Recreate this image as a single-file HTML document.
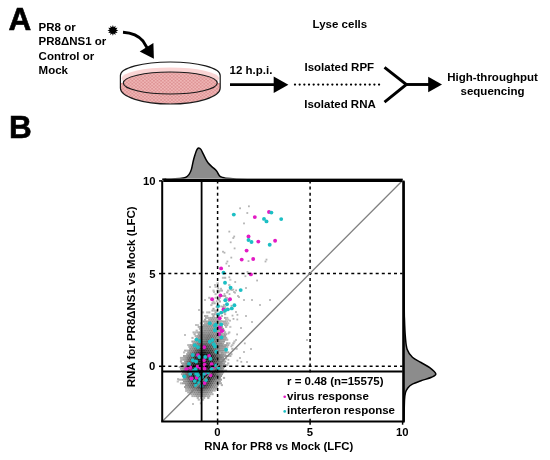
<!DOCTYPE html><html><head><meta charset="utf-8"><style>html,body{margin:0;padding:0;background:#fff;width:550px;height:460px;overflow:hidden}svg{display:block}</style></head><body><svg width="550" height="460" viewBox="0 0 550 460">
<defs>
<pattern id="cells" width="3.6" height="3.2" patternUnits="userSpaceOnUse">
<rect width="3.6" height="3.2" fill="#dc8f90"/>
<circle cx="0.9" cy="0.8" r="0.95" fill="#f1b9b9"/>
<circle cx="2.7" cy="2.4" r="0.95" fill="#f1b9b9"/>
<circle cx="2.7" cy="0.8" r="0.5" fill="#e7a4a4"/>
<circle cx="0.9" cy="2.4" r="0.5" fill="#e7a4a4"/>
</pattern>
<clipPath id="plotclip"><rect x="162.2" y="180.5" width="240.4" height="241"/></clipPath>
</defs>
<rect width="550" height="460" fill="#fff"/>
<text x="8.4" y="30.3" font-size="31.5" stroke="#000" stroke-width="0.6" font-family="Liberation Sans, sans-serif" font-weight="bold">A</text>
<text x="8.9" y="137.5" font-size="31.5" stroke="#000" stroke-width="0.6" font-family="Liberation Sans, sans-serif" font-weight="bold">B</text>
<text x="38.6" y="31.1" font-size="11.5" font-family="Liberation Sans, sans-serif" font-weight="bold">PR8 or</text>
<text x="38.6" y="45.4" font-size="11.5" font-family="Liberation Sans, sans-serif" font-weight="bold">PR8ΔNS1 or</text>
<text x="38.6" y="59.7" font-size="11.5" font-family="Liberation Sans, sans-serif" font-weight="bold">Control or</text>
<text x="38.6" y="74.0" font-size="11.5" font-family="Liberation Sans, sans-serif" font-weight="bold">Mock</text>
<polygon points="118.30,30.40 116.09,31.25 117.58,33.10 115.23,32.73 115.60,35.08 113.75,33.59 112.90,35.80 112.05,33.59 110.20,35.08 110.57,32.73 108.22,33.10 109.71,31.25 107.50,30.40 109.71,29.55 108.22,27.70 110.57,28.07 110.20,25.72 112.05,27.21 112.90,25.00 113.75,27.21 115.60,25.72 115.23,28.07 117.58,27.70 116.09,29.55" fill="#000"/>
<path d="M123,32.2 C131.5,32.8 138.5,35.5 143,41 L147.2,48" fill="none" stroke="#000" stroke-width="2.9"/>
<polygon points="139.7,51.5 153.4,43.1 153.9,58.8" fill="#000"/>
<path d="M120.4,75.5 L120.4,88 A49.89999999999999,16 0 0 0 220.2,88 L220.2,75.5 Z" fill="url(#cells)" stroke="none"/>
<path d="M120.4,75.5 A49.89999999999999,13.5 0 0 1 220.2,75.5 L220.2,83 L217.3,83 A47,11 0 0 0 123.3,83 L120.4,83 Z" fill="#fff" stroke="none"/>
<ellipse cx="170.3" cy="78.3" rx="48.6" ry="10.8" fill="#fad4d4" stroke="none"/>
<ellipse cx="170.3" cy="83" rx="47" ry="11" fill="url(#cells)" stroke="#1a1a1a" stroke-width="1.2"/>
<path d="M120.4,88 L120.4,75.5 A49.89999999999999,13.5 0 0 1 220.2,75.5 L220.2,88 A49.89999999999999,16 0 0 1 120.4,88 Z" fill="none" stroke="#1a1a1a" stroke-width="1.2"/>
<text x="251" y="73.9" font-size="11.5" text-anchor="middle" font-family="Liberation Sans, sans-serif" font-weight="bold">12 h.p.i.</text>
<line x1="230" y1="84.7" x2="275" y2="84.7" stroke="#000" stroke-width="2.8"/>
<polygon points="273.7,76.5 288.4,84.7 273.7,92.9" fill="#000"/>
<line x1="295" y1="84.6" x2="381" y2="84.6" stroke="#000" stroke-width="2.3" stroke-linecap="round" stroke-dasharray="0 4.67"/>
<text x="339.9" y="28.4" font-size="11.5" text-anchor="middle" font-family="Liberation Sans, sans-serif" font-weight="bold">Lyse cells</text>
<text x="339.3" y="70.6" font-size="11.5" text-anchor="middle" font-family="Liberation Sans, sans-serif" font-weight="bold">Isolated RPF</text>
<text x="340" y="108.1" font-size="11.5" text-anchor="middle" font-family="Liberation Sans, sans-serif" font-weight="bold">Isolated RNA</text>
<polyline points="384.5,67.3 406.4,84.5 384.5,102.2" fill="none" stroke="#000" stroke-width="2.9"/>
<line x1="406" y1="84.5" x2="430" y2="84.5" stroke="#000" stroke-width="2.9"/>
<polygon points="428.2,76.7 442,84.5 428.2,92.3" fill="#000"/>
<text x="492.5" y="81" font-size="11.5" text-anchor="middle" font-family="Liberation Sans, sans-serif" font-weight="bold">High-throughput</text>
<text x="492.5" y="94.6" font-size="11.5" text-anchor="middle" font-family="Liberation Sans, sans-serif" font-weight="bold">sequencing</text>
<g clip-path="url(#plotclip)">
<rect x="221.9" y="276.8" width="2.2" height="2.0" fill="rgb(189,189,189)"/>
<rect x="224.0" y="276.8" width="2.2" height="2.0" fill="rgb(180,180,180)"/>
<rect x="229.2" y="278.7" width="2.2" height="2.0" fill="rgb(199,199,199)"/>
<rect x="216.6" y="282.3" width="2.2" height="2.0" fill="rgb(184,184,184)"/>
<rect x="228.2" y="284.1" width="2.2" height="2.0" fill="rgb(185,185,185)"/>
<rect x="214.5" y="285.9" width="2.2" height="2.0" fill="rgb(195,195,195)"/>
<rect x="219.8" y="287.8" width="2.2" height="2.0" fill="rgb(187,187,187)"/>
<rect x="212.4" y="289.6" width="2.2" height="2.0" fill="rgb(191,191,191)"/>
<rect x="216.6" y="289.6" width="2.2" height="2.0" fill="rgb(175,175,175)"/>
<rect x="220.8" y="289.6" width="2.2" height="2.0" fill="rgb(176,176,176)"/>
<rect x="227.1" y="289.6" width="2.2" height="2.0" fill="rgb(184,184,184)"/>
<rect x="226.1" y="291.4" width="2.2" height="2.0" fill="rgb(176,176,176)"/>
<rect x="214.5" y="293.2" width="2.2" height="2.0" fill="rgb(183,183,183)"/>
<rect x="221.9" y="295.0" width="2.2" height="2.0" fill="rgb(182,182,182)"/>
<rect x="224.0" y="295.0" width="2.2" height="2.0" fill="rgb(171,171,171)"/>
<rect x="208.2" y="296.8" width="2.2" height="2.0" fill="rgb(186,186,186)"/>
<rect x="214.5" y="296.8" width="2.2" height="2.0" fill="rgb(190,190,190)"/>
<rect x="218.7" y="296.8" width="2.2" height="2.0" fill="rgb(172,172,172)"/>
<rect x="225.0" y="296.8" width="2.2" height="2.0" fill="rgb(189,189,189)"/>
<rect x="217.7" y="298.7" width="2.2" height="2.0" fill="rgb(166,166,166)"/>
<rect x="224.0" y="298.7" width="2.2" height="2.0" fill="rgb(180,180,180)"/>
<rect x="226.1" y="298.7" width="2.2" height="2.0" fill="rgb(183,183,183)"/>
<rect x="212.4" y="300.5" width="2.2" height="2.0" fill="rgb(187,187,187)"/>
<rect x="218.7" y="300.5" width="2.2" height="2.0" fill="rgb(169,169,169)"/>
<rect x="211.4" y="302.3" width="2.2" height="2.0" fill="rgb(171,171,171)"/>
<rect x="213.5" y="302.3" width="2.2" height="2.0" fill="rgb(172,172,172)"/>
<rect x="210.3" y="304.1" width="2.2" height="2.0" fill="rgb(184,184,184)"/>
<rect x="222.9" y="304.1" width="2.2" height="2.0" fill="rgb(181,181,181)"/>
<rect x="215.6" y="305.9" width="2.2" height="2.0" fill="rgb(170,170,170)"/>
<rect x="221.9" y="305.9" width="2.2" height="2.0" fill="rgb(167,167,167)"/>
<rect x="224.0" y="305.9" width="2.2" height="2.0" fill="rgb(188,188,188)"/>
<rect x="212.4" y="307.8" width="2.2" height="2.0" fill="rgb(162,162,162)"/>
<rect x="211.4" y="309.6" width="2.2" height="2.0" fill="rgb(170,170,170)"/>
<rect x="213.5" y="309.6" width="2.2" height="2.0" fill="rgb(179,179,179)"/>
<rect x="215.6" y="309.6" width="2.2" height="2.0" fill="rgb(167,167,167)"/>
<rect x="201.9" y="311.4" width="2.2" height="2.0" fill="rgb(191,191,191)"/>
<rect x="206.1" y="311.4" width="2.2" height="2.0" fill="rgb(187,187,187)"/>
<rect x="208.2" y="311.4" width="2.2" height="2.0" fill="rgb(175,175,175)"/>
<rect x="214.5" y="311.4" width="2.2" height="2.0" fill="rgb(167,167,167)"/>
<rect x="220.8" y="311.4" width="2.2" height="2.0" fill="rgb(173,173,173)"/>
<rect x="222.9" y="311.4" width="2.2" height="2.0" fill="rgb(170,170,170)"/>
<rect x="211.4" y="313.2" width="2.2" height="2.0" fill="rgb(171,171,171)"/>
<rect x="213.5" y="313.2" width="2.2" height="2.0" fill="rgb(166,166,166)"/>
<rect x="215.6" y="313.2" width="2.2" height="2.0" fill="rgb(174,174,174)"/>
<rect x="224.0" y="313.2" width="2.2" height="2.0" fill="rgb(179,179,179)"/>
<rect x="204.0" y="315.0" width="2.2" height="2.0" fill="rgb(174,174,174)"/>
<rect x="206.1" y="315.0" width="2.2" height="2.0" fill="rgb(178,178,178)"/>
<rect x="212.4" y="315.0" width="2.2" height="2.0" fill="rgb(168,168,168)"/>
<rect x="216.6" y="315.0" width="2.2" height="2.0" fill="rgb(172,172,172)"/>
<rect x="220.8" y="315.0" width="2.2" height="2.0" fill="rgb(180,180,180)"/>
<rect x="205.1" y="316.9" width="2.2" height="2.0" fill="rgb(167,167,167)"/>
<rect x="207.2" y="316.9" width="2.2" height="2.0" fill="rgb(173,173,173)"/>
<rect x="209.3" y="316.9" width="2.2" height="2.0" fill="rgb(165,165,165)"/>
<rect x="211.4" y="316.9" width="2.2" height="2.0" fill="rgb(154,154,154)"/>
<rect x="213.5" y="316.9" width="2.2" height="2.0" fill="rgb(161,161,161)"/>
<rect x="215.6" y="316.9" width="2.2" height="2.0" fill="rgb(154,154,154)"/>
<rect x="224.0" y="316.9" width="2.2" height="2.0" fill="rgb(172,172,172)"/>
<rect x="226.1" y="316.9" width="2.2" height="2.0" fill="rgb(189,189,189)"/>
<rect x="204.0" y="318.7" width="2.2" height="2.0" fill="rgb(165,165,165)"/>
<rect x="208.2" y="318.7" width="2.2" height="2.0" fill="rgb(165,165,165)"/>
<rect x="210.3" y="318.7" width="2.2" height="2.0" fill="rgb(153,153,153)"/>
<rect x="212.4" y="318.7" width="2.2" height="2.0" fill="rgb(151,151,151)"/>
<rect x="214.5" y="318.7" width="2.2" height="2.0" fill="rgb(160,160,160)"/>
<rect x="216.6" y="318.7" width="2.2" height="2.0" fill="rgb(158,158,158)"/>
<rect x="218.7" y="318.7" width="2.2" height="2.0" fill="rgb(172,172,172)"/>
<rect x="225.0" y="318.7" width="2.2" height="2.0" fill="rgb(188,188,188)"/>
<rect x="227.1" y="318.7" width="2.2" height="2.0" fill="rgb(194,194,194)"/>
<rect x="203.0" y="320.5" width="2.2" height="2.0" fill="rgb(164,164,164)"/>
<rect x="205.1" y="320.5" width="2.2" height="2.0" fill="rgb(160,160,160)"/>
<rect x="207.2" y="320.5" width="2.2" height="2.0" fill="rgb(155,155,155)"/>
<rect x="209.3" y="320.5" width="2.2" height="2.0" fill="rgb(150,150,150)"/>
<rect x="211.4" y="320.5" width="2.2" height="2.0" fill="rgb(150,150,150)"/>
<rect x="213.5" y="320.5" width="2.2" height="2.0" fill="rgb(151,151,151)"/>
<rect x="215.6" y="320.5" width="2.2" height="2.0" fill="rgb(152,152,152)"/>
<rect x="217.7" y="320.5" width="2.2" height="2.0" fill="rgb(162,162,162)"/>
<rect x="219.8" y="320.5" width="2.2" height="2.0" fill="rgb(163,163,163)"/>
<rect x="221.9" y="320.5" width="2.2" height="2.0" fill="rgb(166,166,166)"/>
<rect x="224.0" y="320.5" width="2.2" height="2.0" fill="rgb(170,170,170)"/>
<rect x="226.1" y="320.5" width="2.2" height="2.0" fill="rgb(188,188,188)"/>
<rect x="199.8" y="322.3" width="2.2" height="2.0" fill="rgb(186,186,186)"/>
<rect x="204.0" y="322.3" width="2.2" height="2.0" fill="rgb(172,172,172)"/>
<rect x="206.1" y="322.3" width="2.2" height="2.0" fill="rgb(157,157,157)"/>
<rect x="208.2" y="322.3" width="2.2" height="2.0" fill="rgb(154,154,154)"/>
<rect x="210.3" y="322.3" width="2.2" height="2.0" fill="rgb(153,153,153)"/>
<rect x="212.4" y="322.3" width="2.2" height="2.0" fill="rgb(157,157,157)"/>
<rect x="214.5" y="322.3" width="2.2" height="2.0" fill="rgb(149,149,149)"/>
<rect x="216.6" y="322.3" width="2.2" height="2.0" fill="rgb(159,159,159)"/>
<rect x="218.7" y="322.3" width="2.2" height="2.0" fill="rgb(162,162,162)"/>
<rect x="222.9" y="322.3" width="2.2" height="2.0" fill="rgb(168,168,168)"/>
<rect x="225.0" y="322.3" width="2.2" height="2.0" fill="rgb(170,170,170)"/>
<rect x="227.1" y="322.3" width="2.2" height="2.0" fill="rgb(190,190,190)"/>
<rect x="196.7" y="324.1" width="2.2" height="2.0" fill="rgb(193,193,193)"/>
<rect x="203.0" y="324.1" width="2.2" height="2.0" fill="rgb(157,157,157)"/>
<rect x="205.1" y="324.1" width="2.2" height="2.0" fill="rgb(153,153,153)"/>
<rect x="207.2" y="324.1" width="2.2" height="2.0" fill="rgb(150,150,150)"/>
<rect x="209.3" y="324.1" width="2.2" height="2.0" fill="rgb(143,143,143)"/>
<rect x="211.4" y="324.1" width="2.2" height="2.0" fill="rgb(145,145,145)"/>
<rect x="213.5" y="324.1" width="2.2" height="2.0" fill="rgb(144,144,144)"/>
<rect x="215.6" y="324.1" width="2.2" height="2.0" fill="rgb(156,156,156)"/>
<rect x="217.7" y="324.1" width="2.2" height="2.0" fill="rgb(161,161,161)"/>
<rect x="219.8" y="324.1" width="2.2" height="2.0" fill="rgb(157,157,157)"/>
<rect x="224.0" y="324.1" width="2.2" height="2.0" fill="rgb(171,171,171)"/>
<rect x="226.1" y="324.1" width="2.2" height="2.0" fill="rgb(178,178,178)"/>
<rect x="197.7" y="325.9" width="2.2" height="2.0" fill="rgb(173,173,173)"/>
<rect x="199.8" y="325.9" width="2.2" height="2.0" fill="rgb(167,167,167)"/>
<rect x="201.9" y="325.9" width="2.2" height="2.0" fill="rgb(155,155,155)"/>
<rect x="204.0" y="325.9" width="2.2" height="2.0" fill="rgb(152,152,152)"/>
<rect x="206.1" y="325.9" width="2.2" height="2.0" fill="rgb(145,145,145)"/>
<rect x="208.2" y="325.9" width="2.2" height="2.0" fill="rgb(145,145,145)"/>
<rect x="210.3" y="325.9" width="2.2" height="2.0" fill="rgb(142,142,142)"/>
<rect x="212.4" y="325.9" width="2.2" height="2.0" fill="rgb(146,146,146)"/>
<rect x="214.5" y="325.9" width="2.2" height="2.0" fill="rgb(147,147,147)"/>
<rect x="216.6" y="325.9" width="2.2" height="2.0" fill="rgb(152,152,152)"/>
<rect x="218.7" y="325.9" width="2.2" height="2.0" fill="rgb(160,160,160)"/>
<rect x="220.8" y="325.9" width="2.2" height="2.0" fill="rgb(160,160,160)"/>
<rect x="225.0" y="325.9" width="2.2" height="2.0" fill="rgb(182,182,182)"/>
<rect x="229.2" y="325.9" width="2.2" height="2.0" fill="rgb(197,197,197)"/>
<rect x="198.8" y="327.8" width="2.2" height="2.0" fill="rgb(170,170,170)"/>
<rect x="200.9" y="327.8" width="2.2" height="2.0" fill="rgb(165,165,165)"/>
<rect x="203.0" y="327.8" width="2.2" height="2.0" fill="rgb(157,157,157)"/>
<rect x="205.1" y="327.8" width="2.2" height="2.0" fill="rgb(150,150,150)"/>
<rect x="207.2" y="327.8" width="2.2" height="2.0" fill="rgb(142,142,142)"/>
<rect x="209.3" y="327.8" width="2.2" height="2.0" fill="rgb(143,143,143)"/>
<rect x="211.4" y="327.8" width="2.2" height="2.0" fill="rgb(140,140,140)"/>
<rect x="213.5" y="327.8" width="2.2" height="2.0" fill="rgb(142,142,142)"/>
<rect x="215.6" y="327.8" width="2.2" height="2.0" fill="rgb(140,140,140)"/>
<rect x="217.7" y="327.8" width="2.2" height="2.0" fill="rgb(143,143,143)"/>
<rect x="219.8" y="327.8" width="2.2" height="2.0" fill="rgb(151,151,151)"/>
<rect x="221.9" y="327.8" width="2.2" height="2.0" fill="rgb(155,155,155)"/>
<rect x="195.6" y="329.6" width="2.2" height="2.0" fill="rgb(184,184,184)"/>
<rect x="199.8" y="329.6" width="2.2" height="2.0" fill="rgb(160,160,160)"/>
<rect x="201.9" y="329.6" width="2.2" height="2.0" fill="rgb(153,153,153)"/>
<rect x="204.0" y="329.6" width="2.2" height="2.0" fill="rgb(137,137,137)"/>
<rect x="206.1" y="329.6" width="2.2" height="2.0" fill="rgb(140,140,140)"/>
<rect x="208.2" y="329.6" width="2.2" height="2.0" fill="rgb(130,130,130)"/>
<rect x="210.3" y="329.6" width="2.2" height="2.0" fill="rgb(126,126,126)"/>
<rect x="212.4" y="329.6" width="2.2" height="2.0" fill="rgb(130,130,130)"/>
<rect x="214.5" y="329.6" width="2.2" height="2.0" fill="rgb(141,141,141)"/>
<rect x="216.6" y="329.6" width="2.2" height="2.0" fill="rgb(139,139,139)"/>
<rect x="218.7" y="329.6" width="2.2" height="2.0" fill="rgb(154,154,154)"/>
<rect x="220.8" y="329.6" width="2.2" height="2.0" fill="rgb(165,165,165)"/>
<rect x="222.9" y="329.6" width="2.2" height="2.0" fill="rgb(164,164,164)"/>
<rect x="192.5" y="331.4" width="2.2" height="2.0" fill="rgb(179,179,179)"/>
<rect x="194.6" y="331.4" width="2.2" height="2.0" fill="rgb(183,183,183)"/>
<rect x="196.7" y="331.4" width="2.2" height="2.0" fill="rgb(170,170,170)"/>
<rect x="198.8" y="331.4" width="2.2" height="2.0" fill="rgb(152,152,152)"/>
<rect x="200.9" y="331.4" width="2.2" height="2.0" fill="rgb(143,143,143)"/>
<rect x="203.0" y="331.4" width="2.2" height="2.0" fill="rgb(137,137,137)"/>
<rect x="205.1" y="331.4" width="2.2" height="2.0" fill="rgb(136,136,136)"/>
<rect x="207.2" y="331.4" width="2.2" height="2.0" fill="rgb(132,132,132)"/>
<rect x="209.3" y="331.4" width="2.2" height="2.0" fill="rgb(129,129,129)"/>
<rect x="211.4" y="331.4" width="2.2" height="2.0" fill="rgb(125,125,125)"/>
<rect x="213.5" y="331.4" width="2.2" height="2.0" fill="rgb(131,131,131)"/>
<rect x="215.6" y="331.4" width="2.2" height="2.0" fill="rgb(136,136,136)"/>
<rect x="217.7" y="331.4" width="2.2" height="2.0" fill="rgb(144,144,144)"/>
<rect x="219.8" y="331.4" width="2.2" height="2.0" fill="rgb(147,147,147)"/>
<rect x="224.0" y="331.4" width="2.2" height="2.0" fill="rgb(180,180,180)"/>
<rect x="228.2" y="331.4" width="2.2" height="2.0" fill="rgb(182,182,182)"/>
<rect x="193.5" y="333.2" width="2.2" height="2.0" fill="rgb(172,172,172)"/>
<rect x="197.7" y="333.2" width="2.2" height="2.0" fill="rgb(154,154,154)"/>
<rect x="199.8" y="333.2" width="2.2" height="2.0" fill="rgb(149,149,149)"/>
<rect x="201.9" y="333.2" width="2.2" height="2.0" fill="rgb(134,134,134)"/>
<rect x="204.0" y="333.2" width="2.2" height="2.0" fill="rgb(131,131,131)"/>
<rect x="206.1" y="333.2" width="2.2" height="2.0" fill="rgb(131,131,131)"/>
<rect x="208.2" y="333.2" width="2.2" height="2.0" fill="rgb(116,116,116)"/>
<rect x="210.3" y="333.2" width="2.2" height="2.0" fill="rgb(126,126,126)"/>
<rect x="212.4" y="333.2" width="2.2" height="2.0" fill="rgb(124,124,124)"/>
<rect x="214.5" y="333.2" width="2.2" height="2.0" fill="rgb(135,135,135)"/>
<rect x="216.6" y="333.2" width="2.2" height="2.0" fill="rgb(140,140,140)"/>
<rect x="218.7" y="333.2" width="2.2" height="2.0" fill="rgb(142,142,142)"/>
<rect x="220.8" y="333.2" width="2.2" height="2.0" fill="rgb(161,161,161)"/>
<rect x="222.9" y="333.2" width="2.2" height="2.0" fill="rgb(153,153,153)"/>
<rect x="225.0" y="333.2" width="2.2" height="2.0" fill="rgb(172,172,172)"/>
<rect x="194.6" y="335.0" width="2.2" height="2.0" fill="rgb(175,175,175)"/>
<rect x="196.7" y="335.0" width="2.2" height="2.0" fill="rgb(163,163,163)"/>
<rect x="198.8" y="335.0" width="2.2" height="2.0" fill="rgb(142,142,142)"/>
<rect x="200.9" y="335.0" width="2.2" height="2.0" fill="rgb(143,143,143)"/>
<rect x="203.0" y="335.0" width="2.2" height="2.0" fill="rgb(131,131,131)"/>
<rect x="205.1" y="335.0" width="2.2" height="2.0" fill="rgb(127,127,127)"/>
<rect x="207.2" y="335.0" width="2.2" height="2.0" fill="rgb(114,114,114)"/>
<rect x="209.3" y="335.0" width="2.2" height="2.0" fill="rgb(114,114,114)"/>
<rect x="211.4" y="335.0" width="2.2" height="2.0" fill="rgb(116,116,116)"/>
<rect x="213.5" y="335.0" width="2.2" height="2.0" fill="rgb(130,130,130)"/>
<rect x="215.6" y="335.0" width="2.2" height="2.0" fill="rgb(131,131,131)"/>
<rect x="217.7" y="335.0" width="2.2" height="2.0" fill="rgb(137,137,137)"/>
<rect x="219.8" y="335.0" width="2.2" height="2.0" fill="rgb(147,147,147)"/>
<rect x="221.9" y="335.0" width="2.2" height="2.0" fill="rgb(155,155,155)"/>
<rect x="224.0" y="335.0" width="2.2" height="2.0" fill="rgb(158,158,158)"/>
<rect x="191.4" y="336.9" width="2.2" height="2.0" fill="rgb(177,177,177)"/>
<rect x="195.6" y="336.9" width="2.2" height="2.0" fill="rgb(164,164,164)"/>
<rect x="197.7" y="336.9" width="2.2" height="2.0" fill="rgb(151,151,151)"/>
<rect x="199.8" y="336.9" width="2.2" height="2.0" fill="rgb(138,138,138)"/>
<rect x="201.9" y="336.9" width="2.2" height="2.0" fill="rgb(132,132,132)"/>
<rect x="204.0" y="336.9" width="2.2" height="2.0" fill="rgb(125,125,125)"/>
<rect x="206.1" y="336.9" width="2.2" height="2.0" fill="rgb(114,114,114)"/>
<rect x="208.2" y="336.9" width="2.2" height="2.0" fill="rgb(114,114,114)"/>
<rect x="210.3" y="336.9" width="2.2" height="2.0" fill="rgb(106,106,106)"/>
<rect x="212.4" y="336.9" width="2.2" height="2.0" fill="rgb(119,119,119)"/>
<rect x="214.5" y="336.9" width="2.2" height="2.0" fill="rgb(122,122,122)"/>
<rect x="216.6" y="336.9" width="2.2" height="2.0" fill="rgb(135,135,135)"/>
<rect x="218.7" y="336.9" width="2.2" height="2.0" fill="rgb(143,143,143)"/>
<rect x="220.8" y="336.9" width="2.2" height="2.0" fill="rgb(149,149,149)"/>
<rect x="222.9" y="336.9" width="2.2" height="2.0" fill="rgb(167,167,167)"/>
<rect x="225.0" y="336.9" width="2.2" height="2.0" fill="rgb(169,169,169)"/>
<rect x="194.6" y="338.7" width="2.2" height="2.0" fill="rgb(157,157,157)"/>
<rect x="196.7" y="338.7" width="2.2" height="2.0" fill="rgb(142,142,142)"/>
<rect x="198.8" y="338.7" width="2.2" height="2.0" fill="rgb(130,130,130)"/>
<rect x="200.9" y="338.7" width="2.2" height="2.0" fill="rgb(120,120,120)"/>
<rect x="203.0" y="338.7" width="2.2" height="2.0" fill="rgb(121,121,121)"/>
<rect x="205.1" y="338.7" width="2.2" height="2.0" fill="rgb(109,109,109)"/>
<rect x="207.2" y="338.7" width="2.2" height="2.0" fill="rgb(102,102,102)"/>
<rect x="209.3" y="338.7" width="2.2" height="2.0" fill="rgb(112,112,112)"/>
<rect x="211.4" y="338.7" width="2.2" height="2.0" fill="rgb(117,117,117)"/>
<rect x="213.5" y="338.7" width="2.2" height="2.0" fill="rgb(115,115,115)"/>
<rect x="215.6" y="338.7" width="2.2" height="2.0" fill="rgb(120,120,120)"/>
<rect x="217.7" y="338.7" width="2.2" height="2.0" fill="rgb(130,130,130)"/>
<rect x="219.8" y="338.7" width="2.2" height="2.0" fill="rgb(140,140,140)"/>
<rect x="221.9" y="338.7" width="2.2" height="2.0" fill="rgb(153,153,153)"/>
<rect x="224.0" y="338.7" width="2.2" height="2.0" fill="rgb(159,159,159)"/>
<rect x="226.1" y="338.7" width="2.2" height="2.0" fill="rgb(174,174,174)"/>
<rect x="191.4" y="340.5" width="2.2" height="2.0" fill="rgb(160,160,160)"/>
<rect x="193.5" y="340.5" width="2.2" height="2.0" fill="rgb(154,154,154)"/>
<rect x="195.6" y="340.5" width="2.2" height="2.0" fill="rgb(151,151,151)"/>
<rect x="197.7" y="340.5" width="2.2" height="2.0" fill="rgb(127,127,127)"/>
<rect x="199.8" y="340.5" width="2.2" height="2.0" fill="rgb(121,121,121)"/>
<rect x="201.9" y="340.5" width="2.2" height="2.0" fill="rgb(114,114,114)"/>
<rect x="204.0" y="340.5" width="2.2" height="2.0" fill="rgb(110,110,110)"/>
<rect x="206.1" y="340.5" width="2.2" height="2.0" fill="rgb(97,97,97)"/>
<rect x="208.2" y="340.5" width="2.2" height="2.0" fill="rgb(97,97,97)"/>
<rect x="210.3" y="340.5" width="2.2" height="2.0" fill="rgb(100,100,100)"/>
<rect x="212.4" y="340.5" width="2.2" height="2.0" fill="rgb(108,108,108)"/>
<rect x="214.5" y="340.5" width="2.2" height="2.0" fill="rgb(117,117,117)"/>
<rect x="216.6" y="340.5" width="2.2" height="2.0" fill="rgb(134,134,134)"/>
<rect x="218.7" y="340.5" width="2.2" height="2.0" fill="rgb(144,144,144)"/>
<rect x="220.8" y="340.5" width="2.2" height="2.0" fill="rgb(155,155,155)"/>
<rect x="222.9" y="340.5" width="2.2" height="2.0" fill="rgb(153,153,153)"/>
<rect x="233.4" y="340.5" width="2.2" height="2.0" fill="rgb(186,186,186)"/>
<rect x="192.5" y="342.3" width="2.2" height="2.0" fill="rgb(153,153,153)"/>
<rect x="194.6" y="342.3" width="2.2" height="2.0" fill="rgb(138,138,138)"/>
<rect x="196.7" y="342.3" width="2.2" height="2.0" fill="rgb(125,125,125)"/>
<rect x="198.8" y="342.3" width="2.2" height="2.0" fill="rgb(118,118,118)"/>
<rect x="200.9" y="342.3" width="2.2" height="2.0" fill="rgb(110,110,110)"/>
<rect x="203.0" y="342.3" width="2.2" height="2.0" fill="rgb(105,105,105)"/>
<rect x="205.1" y="342.3" width="2.2" height="2.0" fill="rgb(97,97,97)"/>
<rect x="207.2" y="342.3" width="2.2" height="2.0" fill="rgb(95,95,95)"/>
<rect x="209.3" y="342.3" width="2.2" height="2.0" fill="rgb(99,99,99)"/>
<rect x="211.4" y="342.3" width="2.2" height="2.0" fill="rgb(100,100,100)"/>
<rect x="213.5" y="342.3" width="2.2" height="2.0" fill="rgb(110,110,110)"/>
<rect x="215.6" y="342.3" width="2.2" height="2.0" fill="rgb(114,114,114)"/>
<rect x="217.7" y="342.3" width="2.2" height="2.0" fill="rgb(136,136,136)"/>
<rect x="219.8" y="342.3" width="2.2" height="2.0" fill="rgb(140,140,140)"/>
<rect x="221.9" y="342.3" width="2.2" height="2.0" fill="rgb(161,161,161)"/>
<rect x="226.1" y="342.3" width="2.2" height="2.0" fill="rgb(163,163,163)"/>
<rect x="228.2" y="342.3" width="2.2" height="2.0" fill="rgb(180,180,180)"/>
<rect x="232.4" y="342.3" width="2.2" height="2.0" fill="rgb(176,176,176)"/>
<rect x="187.2" y="344.1" width="2.2" height="2.0" fill="rgb(182,182,182)"/>
<rect x="189.3" y="344.1" width="2.2" height="2.0" fill="rgb(164,164,164)"/>
<rect x="191.4" y="344.1" width="2.2" height="2.0" fill="rgb(154,154,154)"/>
<rect x="193.5" y="344.1" width="2.2" height="2.0" fill="rgb(147,147,147)"/>
<rect x="195.6" y="344.1" width="2.2" height="2.0" fill="rgb(128,128,128)"/>
<rect x="197.7" y="344.1" width="2.2" height="2.0" fill="rgb(118,118,118)"/>
<rect x="199.8" y="344.1" width="2.2" height="2.0" fill="rgb(101,101,101)"/>
<rect x="201.9" y="344.1" width="2.2" height="2.0" fill="rgb(88,88,88)"/>
<rect x="204.0" y="344.1" width="2.2" height="2.0" fill="rgb(83,83,83)"/>
<rect x="206.1" y="344.1" width="2.2" height="2.0" fill="rgb(91,91,91)"/>
<rect x="208.2" y="344.1" width="2.2" height="2.0" fill="rgb(89,89,89)"/>
<rect x="210.3" y="344.1" width="2.2" height="2.0" fill="rgb(89,89,89)"/>
<rect x="212.4" y="344.1" width="2.2" height="2.0" fill="rgb(94,94,94)"/>
<rect x="214.5" y="344.1" width="2.2" height="2.0" fill="rgb(111,111,111)"/>
<rect x="216.6" y="344.1" width="2.2" height="2.0" fill="rgb(126,126,126)"/>
<rect x="218.7" y="344.1" width="2.2" height="2.0" fill="rgb(135,135,135)"/>
<rect x="220.8" y="344.1" width="2.2" height="2.0" fill="rgb(145,145,145)"/>
<rect x="222.9" y="344.1" width="2.2" height="2.0" fill="rgb(165,165,165)"/>
<rect x="225.0" y="344.1" width="2.2" height="2.0" fill="rgb(157,157,157)"/>
<rect x="227.1" y="344.1" width="2.2" height="2.0" fill="rgb(172,172,172)"/>
<rect x="231.3" y="344.1" width="2.2" height="2.0" fill="rgb(190,190,190)"/>
<rect x="188.3" y="345.9" width="2.2" height="2.0" fill="rgb(174,174,174)"/>
<rect x="190.4" y="345.9" width="2.2" height="2.0" fill="rgb(149,149,149)"/>
<rect x="192.5" y="345.9" width="2.2" height="2.0" fill="rgb(134,134,134)"/>
<rect x="194.6" y="345.9" width="2.2" height="2.0" fill="rgb(126,126,126)"/>
<rect x="196.7" y="345.9" width="2.2" height="2.0" fill="rgb(104,104,104)"/>
<rect x="198.8" y="345.9" width="2.2" height="2.0" fill="rgb(101,101,101)"/>
<rect x="200.9" y="345.9" width="2.2" height="2.0" fill="rgb(84,84,84)"/>
<rect x="203.0" y="345.9" width="2.2" height="2.0" fill="rgb(72,72,72)"/>
<rect x="205.1" y="345.9" width="2.2" height="2.0" fill="rgb(70,70,70)"/>
<rect x="207.2" y="345.9" width="2.2" height="2.0" fill="rgb(74,74,74)"/>
<rect x="209.3" y="345.9" width="2.2" height="2.0" fill="rgb(82,82,82)"/>
<rect x="211.4" y="345.9" width="2.2" height="2.0" fill="rgb(95,95,95)"/>
<rect x="213.5" y="345.9" width="2.2" height="2.0" fill="rgb(96,96,96)"/>
<rect x="215.6" y="345.9" width="2.2" height="2.0" fill="rgb(113,113,113)"/>
<rect x="217.7" y="345.9" width="2.2" height="2.0" fill="rgb(124,124,124)"/>
<rect x="219.8" y="345.9" width="2.2" height="2.0" fill="rgb(148,148,148)"/>
<rect x="221.9" y="345.9" width="2.2" height="2.0" fill="rgb(149,149,149)"/>
<rect x="224.0" y="345.9" width="2.2" height="2.0" fill="rgb(154,154,154)"/>
<rect x="226.1" y="345.9" width="2.2" height="2.0" fill="rgb(180,180,180)"/>
<rect x="189.3" y="347.8" width="2.2" height="2.0" fill="rgb(145,145,145)"/>
<rect x="191.4" y="347.8" width="2.2" height="2.0" fill="rgb(137,137,137)"/>
<rect x="193.5" y="347.8" width="2.2" height="2.0" fill="rgb(116,116,116)"/>
<rect x="195.6" y="347.8" width="2.2" height="2.0" fill="rgb(100,100,100)"/>
<rect x="197.7" y="347.8" width="2.2" height="2.0" fill="rgb(84,84,84)"/>
<rect x="199.8" y="347.8" width="2.2" height="2.0" fill="rgb(70,70,70)"/>
<rect x="201.9" y="347.8" width="2.2" height="2.0" fill="rgb(59,59,59)"/>
<rect x="204.0" y="347.8" width="2.2" height="2.0" fill="rgb(58,58,58)"/>
<rect x="206.1" y="347.8" width="2.2" height="2.0" fill="rgb(60,60,60)"/>
<rect x="208.2" y="347.8" width="2.2" height="2.0" fill="rgb(73,73,73)"/>
<rect x="210.3" y="347.8" width="2.2" height="2.0" fill="rgb(70,70,70)"/>
<rect x="212.4" y="347.8" width="2.2" height="2.0" fill="rgb(94,94,94)"/>
<rect x="214.5" y="347.8" width="2.2" height="2.0" fill="rgb(98,98,98)"/>
<rect x="216.6" y="347.8" width="2.2" height="2.0" fill="rgb(116,116,116)"/>
<rect x="218.7" y="347.8" width="2.2" height="2.0" fill="rgb(137,137,137)"/>
<rect x="220.8" y="347.8" width="2.2" height="2.0" fill="rgb(151,151,151)"/>
<rect x="222.9" y="347.8" width="2.2" height="2.0" fill="rgb(157,157,157)"/>
<rect x="225.0" y="347.8" width="2.2" height="2.0" fill="rgb(167,167,167)"/>
<rect x="231.3" y="347.8" width="2.2" height="2.0" fill="rgb(179,179,179)"/>
<rect x="235.5" y="347.8" width="2.2" height="2.0" fill="rgb(189,189,189)"/>
<rect x="184.1" y="349.6" width="2.2" height="2.0" fill="rgb(169,169,169)"/>
<rect x="186.2" y="349.6" width="2.2" height="2.0" fill="rgb(176,176,176)"/>
<rect x="188.3" y="349.6" width="2.2" height="2.0" fill="rgb(147,147,147)"/>
<rect x="190.4" y="349.6" width="2.2" height="2.0" fill="rgb(136,136,136)"/>
<rect x="192.5" y="349.6" width="2.2" height="2.0" fill="rgb(120,120,120)"/>
<rect x="194.6" y="349.6" width="2.2" height="2.0" fill="rgb(93,93,93)"/>
<rect x="196.7" y="349.6" width="2.2" height="2.0" fill="rgb(75,75,75)"/>
<rect x="198.8" y="349.6" width="2.2" height="2.0" fill="rgb(71,71,71)"/>
<rect x="200.9" y="349.6" width="2.2" height="2.0" fill="rgb(55,55,55)"/>
<rect x="203.0" y="349.6" width="2.2" height="2.0" fill="rgb(44,44,44)"/>
<rect x="205.1" y="349.6" width="2.2" height="2.0" fill="rgb(50,50,50)"/>
<rect x="207.2" y="349.6" width="2.2" height="2.0" fill="rgb(49,49,49)"/>
<rect x="209.3" y="349.6" width="2.2" height="2.0" fill="rgb(57,57,57)"/>
<rect x="211.4" y="349.6" width="2.2" height="2.0" fill="rgb(66,66,66)"/>
<rect x="213.5" y="349.6" width="2.2" height="2.0" fill="rgb(92,92,92)"/>
<rect x="215.6" y="349.6" width="2.2" height="2.0" fill="rgb(111,111,111)"/>
<rect x="217.7" y="349.6" width="2.2" height="2.0" fill="rgb(124,124,124)"/>
<rect x="219.8" y="349.6" width="2.2" height="2.0" fill="rgb(144,144,144)"/>
<rect x="221.9" y="349.6" width="2.2" height="2.0" fill="rgb(145,145,145)"/>
<rect x="224.0" y="349.6" width="2.2" height="2.0" fill="rgb(162,162,162)"/>
<rect x="183.0" y="351.4" width="2.2" height="2.0" fill="rgb(187,187,187)"/>
<rect x="187.2" y="351.4" width="2.2" height="2.0" fill="rgb(154,154,154)"/>
<rect x="189.3" y="351.4" width="2.2" height="2.0" fill="rgb(135,135,135)"/>
<rect x="191.4" y="351.4" width="2.2" height="2.0" fill="rgb(112,112,112)"/>
<rect x="193.5" y="351.4" width="2.2" height="2.0" fill="rgb(88,88,88)"/>
<rect x="195.6" y="351.4" width="2.2" height="2.0" fill="rgb(69,69,69)"/>
<rect x="197.7" y="351.4" width="2.2" height="2.0" fill="rgb(52,52,52)"/>
<rect x="199.8" y="351.4" width="2.2" height="2.0" fill="rgb(45,45,45)"/>
<rect x="201.9" y="351.4" width="2.2" height="2.0" fill="rgb(27,27,27)"/>
<rect x="204.0" y="351.4" width="2.2" height="2.0" fill="rgb(27,27,27)"/>
<rect x="206.1" y="351.4" width="2.2" height="2.0" fill="rgb(38,38,38)"/>
<rect x="208.2" y="351.4" width="2.2" height="2.0" fill="rgb(39,39,39)"/>
<rect x="210.3" y="351.4" width="2.2" height="2.0" fill="rgb(50,50,50)"/>
<rect x="212.4" y="351.4" width="2.2" height="2.0" fill="rgb(66,66,66)"/>
<rect x="214.5" y="351.4" width="2.2" height="2.0" fill="rgb(91,91,91)"/>
<rect x="216.6" y="351.4" width="2.2" height="2.0" fill="rgb(107,107,107)"/>
<rect x="218.7" y="351.4" width="2.2" height="2.0" fill="rgb(134,134,134)"/>
<rect x="220.8" y="351.4" width="2.2" height="2.0" fill="rgb(149,149,149)"/>
<rect x="222.9" y="351.4" width="2.2" height="2.0" fill="rgb(164,164,164)"/>
<rect x="225.0" y="351.4" width="2.2" height="2.0" fill="rgb(158,158,158)"/>
<rect x="227.1" y="351.4" width="2.2" height="2.0" fill="rgb(174,174,174)"/>
<rect x="186.2" y="353.2" width="2.2" height="2.0" fill="rgb(155,155,155)"/>
<rect x="188.3" y="353.2" width="2.2" height="2.0" fill="rgb(133,133,133)"/>
<rect x="190.4" y="353.2" width="2.2" height="2.0" fill="rgb(103,103,103)"/>
<rect x="192.5" y="353.2" width="2.2" height="2.0" fill="rgb(91,91,91)"/>
<rect x="194.6" y="353.2" width="2.2" height="2.0" fill="rgb(62,62,62)"/>
<rect x="196.7" y="353.2" width="2.2" height="2.0" fill="rgb(46,46,46)"/>
<rect x="198.8" y="353.2" width="2.2" height="2.0" fill="rgb(28,28,28)"/>
<rect x="200.9" y="353.2" width="2.2" height="2.0" fill="rgb(25,25,25)"/>
<rect x="203.0" y="353.2" width="2.2" height="2.0" fill="rgb(25,25,25)"/>
<rect x="205.1" y="353.2" width="2.2" height="2.0" fill="rgb(25,25,25)"/>
<rect x="207.2" y="353.2" width="2.2" height="2.0" fill="rgb(25,25,25)"/>
<rect x="209.3" y="353.2" width="2.2" height="2.0" fill="rgb(32,32,32)"/>
<rect x="211.4" y="353.2" width="2.2" height="2.0" fill="rgb(59,59,59)"/>
<rect x="213.5" y="353.2" width="2.2" height="2.0" fill="rgb(75,75,75)"/>
<rect x="215.6" y="353.2" width="2.2" height="2.0" fill="rgb(92,92,92)"/>
<rect x="217.7" y="353.2" width="2.2" height="2.0" fill="rgb(114,114,114)"/>
<rect x="219.8" y="353.2" width="2.2" height="2.0" fill="rgb(141,141,141)"/>
<rect x="221.9" y="353.2" width="2.2" height="2.0" fill="rgb(150,150,150)"/>
<rect x="224.0" y="353.2" width="2.2" height="2.0" fill="rgb(169,169,169)"/>
<rect x="230.3" y="353.2" width="2.2" height="2.0" fill="rgb(181,181,181)"/>
<rect x="183.0" y="355.0" width="2.2" height="2.0" fill="rgb(162,162,162)"/>
<rect x="185.1" y="355.0" width="2.2" height="2.0" fill="rgb(158,158,158)"/>
<rect x="187.2" y="355.0" width="2.2" height="2.0" fill="rgb(132,132,132)"/>
<rect x="189.3" y="355.0" width="2.2" height="2.0" fill="rgb(114,114,114)"/>
<rect x="191.4" y="355.0" width="2.2" height="2.0" fill="rgb(82,82,82)"/>
<rect x="193.5" y="355.0" width="2.2" height="2.0" fill="rgb(65,65,65)"/>
<rect x="195.6" y="355.0" width="2.2" height="2.0" fill="rgb(37,37,37)"/>
<rect x="197.7" y="355.0" width="2.2" height="2.0" fill="rgb(25,25,25)"/>
<rect x="199.8" y="355.0" width="2.2" height="2.0" fill="rgb(25,25,25)"/>
<rect x="201.9" y="355.0" width="2.2" height="2.0" fill="rgb(25,25,25)"/>
<rect x="204.0" y="355.0" width="2.2" height="2.0" fill="rgb(25,25,25)"/>
<rect x="206.1" y="355.0" width="2.2" height="2.0" fill="rgb(25,25,25)"/>
<rect x="208.2" y="355.0" width="2.2" height="2.0" fill="rgb(25,25,25)"/>
<rect x="210.3" y="355.0" width="2.2" height="2.0" fill="rgb(30,30,30)"/>
<rect x="212.4" y="355.0" width="2.2" height="2.0" fill="rgb(53,53,53)"/>
<rect x="214.5" y="355.0" width="2.2" height="2.0" fill="rgb(73,73,73)"/>
<rect x="216.6" y="355.0" width="2.2" height="2.0" fill="rgb(96,96,96)"/>
<rect x="218.7" y="355.0" width="2.2" height="2.0" fill="rgb(119,119,119)"/>
<rect x="220.8" y="355.0" width="2.2" height="2.0" fill="rgb(142,142,142)"/>
<rect x="222.9" y="355.0" width="2.2" height="2.0" fill="rgb(158,158,158)"/>
<rect x="225.0" y="355.0" width="2.2" height="2.0" fill="rgb(156,156,156)"/>
<rect x="227.1" y="355.0" width="2.2" height="2.0" fill="rgb(179,179,179)"/>
<rect x="229.2" y="355.0" width="2.2" height="2.0" fill="rgb(176,176,176)"/>
<rect x="179.9" y="356.9" width="2.2" height="2.0" fill="rgb(177,177,177)"/>
<rect x="182.0" y="356.9" width="2.2" height="2.0" fill="rgb(173,173,173)"/>
<rect x="184.1" y="356.9" width="2.2" height="2.0" fill="rgb(156,156,156)"/>
<rect x="186.2" y="356.9" width="2.2" height="2.0" fill="rgb(127,127,127)"/>
<rect x="188.3" y="356.9" width="2.2" height="2.0" fill="rgb(104,104,104)"/>
<rect x="190.4" y="356.9" width="2.2" height="2.0" fill="rgb(86,86,86)"/>
<rect x="192.5" y="356.9" width="2.2" height="2.0" fill="rgb(56,56,56)"/>
<rect x="194.6" y="356.9" width="2.2" height="2.0" fill="rgb(29,29,29)"/>
<rect x="196.7" y="356.9" width="2.2" height="2.0" fill="rgb(25,25,25)"/>
<rect x="198.8" y="356.9" width="2.2" height="2.0" fill="rgb(25,25,25)"/>
<rect x="200.9" y="356.9" width="2.2" height="2.0" fill="rgb(25,25,25)"/>
<rect x="203.0" y="356.9" width="2.2" height="2.0" fill="rgb(25,25,25)"/>
<rect x="205.1" y="356.9" width="2.2" height="2.0" fill="rgb(25,25,25)"/>
<rect x="207.2" y="356.9" width="2.2" height="2.0" fill="rgb(25,25,25)"/>
<rect x="209.3" y="356.9" width="2.2" height="2.0" fill="rgb(25,25,25)"/>
<rect x="211.4" y="356.9" width="2.2" height="2.0" fill="rgb(42,42,42)"/>
<rect x="213.5" y="356.9" width="2.2" height="2.0" fill="rgb(57,57,57)"/>
<rect x="215.6" y="356.9" width="2.2" height="2.0" fill="rgb(80,80,80)"/>
<rect x="217.7" y="356.9" width="2.2" height="2.0" fill="rgb(111,111,111)"/>
<rect x="219.8" y="356.9" width="2.2" height="2.0" fill="rgb(126,126,126)"/>
<rect x="221.9" y="356.9" width="2.2" height="2.0" fill="rgb(141,141,141)"/>
<rect x="180.9" y="358.7" width="2.2" height="2.0" fill="rgb(176,176,176)"/>
<rect x="183.0" y="358.7" width="2.2" height="2.0" fill="rgb(159,159,159)"/>
<rect x="185.1" y="358.7" width="2.2" height="2.0" fill="rgb(142,142,142)"/>
<rect x="187.2" y="358.7" width="2.2" height="2.0" fill="rgb(106,106,106)"/>
<rect x="189.3" y="358.7" width="2.2" height="2.0" fill="rgb(87,87,87)"/>
<rect x="191.4" y="358.7" width="2.2" height="2.0" fill="rgb(55,55,55)"/>
<rect x="193.5" y="358.7" width="2.2" height="2.0" fill="rgb(30,30,30)"/>
<rect x="195.6" y="358.7" width="2.2" height="2.0" fill="rgb(25,25,25)"/>
<rect x="197.7" y="358.7" width="2.2" height="2.0" fill="rgb(25,25,25)"/>
<rect x="199.8" y="358.7" width="2.2" height="2.0" fill="rgb(25,25,25)"/>
<rect x="201.9" y="358.7" width="2.2" height="2.0" fill="rgb(25,25,25)"/>
<rect x="204.0" y="358.7" width="2.2" height="2.0" fill="rgb(25,25,25)"/>
<rect x="206.1" y="358.7" width="2.2" height="2.0" fill="rgb(25,25,25)"/>
<rect x="208.2" y="358.7" width="2.2" height="2.0" fill="rgb(25,25,25)"/>
<rect x="210.3" y="358.7" width="2.2" height="2.0" fill="rgb(25,25,25)"/>
<rect x="212.4" y="358.7" width="2.2" height="2.0" fill="rgb(35,35,35)"/>
<rect x="214.5" y="358.7" width="2.2" height="2.0" fill="rgb(61,61,61)"/>
<rect x="216.6" y="358.7" width="2.2" height="2.0" fill="rgb(99,99,99)"/>
<rect x="218.7" y="358.7" width="2.2" height="2.0" fill="rgb(124,124,124)"/>
<rect x="220.8" y="358.7" width="2.2" height="2.0" fill="rgb(138,138,138)"/>
<rect x="222.9" y="358.7" width="2.2" height="2.0" fill="rgb(149,149,149)"/>
<rect x="179.9" y="360.5" width="2.2" height="2.0" fill="rgb(177,177,177)"/>
<rect x="184.1" y="360.5" width="2.2" height="2.0" fill="rgb(146,146,146)"/>
<rect x="186.2" y="360.5" width="2.2" height="2.0" fill="rgb(112,112,112)"/>
<rect x="188.3" y="360.5" width="2.2" height="2.0" fill="rgb(85,85,85)"/>
<rect x="190.4" y="360.5" width="2.2" height="2.0" fill="rgb(58,58,58)"/>
<rect x="192.5" y="360.5" width="2.2" height="2.0" fill="rgb(31,31,31)"/>
<rect x="194.6" y="360.5" width="2.2" height="2.0" fill="rgb(25,25,25)"/>
<rect x="196.7" y="360.5" width="2.2" height="2.0" fill="rgb(25,25,25)"/>
<rect x="198.8" y="360.5" width="2.2" height="2.0" fill="rgb(25,25,25)"/>
<rect x="200.9" y="360.5" width="2.2" height="2.0" fill="rgb(25,25,25)"/>
<rect x="203.0" y="360.5" width="2.2" height="2.0" fill="rgb(25,25,25)"/>
<rect x="205.1" y="360.5" width="2.2" height="2.0" fill="rgb(25,25,25)"/>
<rect x="207.2" y="360.5" width="2.2" height="2.0" fill="rgb(25,25,25)"/>
<rect x="209.3" y="360.5" width="2.2" height="2.0" fill="rgb(25,25,25)"/>
<rect x="211.4" y="360.5" width="2.2" height="2.0" fill="rgb(25,25,25)"/>
<rect x="213.5" y="360.5" width="2.2" height="2.0" fill="rgb(52,52,52)"/>
<rect x="215.6" y="360.5" width="2.2" height="2.0" fill="rgb(71,71,71)"/>
<rect x="217.7" y="360.5" width="2.2" height="2.0" fill="rgb(104,104,104)"/>
<rect x="219.8" y="360.5" width="2.2" height="2.0" fill="rgb(128,128,128)"/>
<rect x="221.9" y="360.5" width="2.2" height="2.0" fill="rgb(149,149,149)"/>
<rect x="224.0" y="360.5" width="2.2" height="2.0" fill="rgb(161,161,161)"/>
<rect x="180.9" y="362.3" width="2.2" height="2.0" fill="rgb(161,161,161)"/>
<rect x="183.0" y="362.3" width="2.2" height="2.0" fill="rgb(151,151,151)"/>
<rect x="185.1" y="362.3" width="2.2" height="2.0" fill="rgb(127,127,127)"/>
<rect x="187.2" y="362.3" width="2.2" height="2.0" fill="rgb(95,95,95)"/>
<rect x="189.3" y="362.3" width="2.2" height="2.0" fill="rgb(61,61,61)"/>
<rect x="191.4" y="362.3" width="2.2" height="2.0" fill="rgb(34,34,34)"/>
<rect x="193.5" y="362.3" width="2.2" height="2.0" fill="rgb(25,25,25)"/>
<rect x="195.6" y="362.3" width="2.2" height="2.0" fill="rgb(25,25,25)"/>
<rect x="197.7" y="362.3" width="2.2" height="2.0" fill="rgb(25,25,25)"/>
<rect x="199.8" y="362.3" width="2.2" height="2.0" fill="rgb(25,25,25)"/>
<rect x="201.9" y="362.3" width="2.2" height="2.0" fill="rgb(25,25,25)"/>
<rect x="204.0" y="362.3" width="2.2" height="2.0" fill="rgb(25,25,25)"/>
<rect x="206.1" y="362.3" width="2.2" height="2.0" fill="rgb(25,25,25)"/>
<rect x="208.2" y="362.3" width="2.2" height="2.0" fill="rgb(25,25,25)"/>
<rect x="210.3" y="362.3" width="2.2" height="2.0" fill="rgb(25,25,25)"/>
<rect x="212.4" y="362.3" width="2.2" height="2.0" fill="rgb(32,32,32)"/>
<rect x="214.5" y="362.3" width="2.2" height="2.0" fill="rgb(63,63,63)"/>
<rect x="216.6" y="362.3" width="2.2" height="2.0" fill="rgb(88,88,88)"/>
<rect x="218.7" y="362.3" width="2.2" height="2.0" fill="rgb(109,109,109)"/>
<rect x="220.8" y="362.3" width="2.2" height="2.0" fill="rgb(138,138,138)"/>
<rect x="222.9" y="362.3" width="2.2" height="2.0" fill="rgb(155,155,155)"/>
<rect x="227.1" y="362.3" width="2.2" height="2.0" fill="rgb(188,188,188)"/>
<rect x="182.0" y="364.1" width="2.2" height="2.0" fill="rgb(154,154,154)"/>
<rect x="184.1" y="364.1" width="2.2" height="2.0" fill="rgb(137,137,137)"/>
<rect x="186.2" y="364.1" width="2.2" height="2.0" fill="rgb(109,109,109)"/>
<rect x="188.3" y="364.1" width="2.2" height="2.0" fill="rgb(69,69,69)"/>
<rect x="190.4" y="364.1" width="2.2" height="2.0" fill="rgb(46,46,46)"/>
<rect x="192.5" y="364.1" width="2.2" height="2.0" fill="rgb(25,25,25)"/>
<rect x="194.6" y="364.1" width="2.2" height="2.0" fill="rgb(25,25,25)"/>
<rect x="196.7" y="364.1" width="2.2" height="2.0" fill="rgb(25,25,25)"/>
<rect x="198.8" y="364.1" width="2.2" height="2.0" fill="rgb(25,25,25)"/>
<rect x="200.9" y="364.1" width="2.2" height="2.0" fill="rgb(25,25,25)"/>
<rect x="203.0" y="364.1" width="2.2" height="2.0" fill="rgb(25,25,25)"/>
<rect x="205.1" y="364.1" width="2.2" height="2.0" fill="rgb(25,25,25)"/>
<rect x="207.2" y="364.1" width="2.2" height="2.0" fill="rgb(25,25,25)"/>
<rect x="209.3" y="364.1" width="2.2" height="2.0" fill="rgb(25,25,25)"/>
<rect x="211.4" y="364.1" width="2.2" height="2.0" fill="rgb(25,25,25)"/>
<rect x="213.5" y="364.1" width="2.2" height="2.0" fill="rgb(48,48,48)"/>
<rect x="215.6" y="364.1" width="2.2" height="2.0" fill="rgb(69,69,69)"/>
<rect x="217.7" y="364.1" width="2.2" height="2.0" fill="rgb(98,98,98)"/>
<rect x="219.8" y="364.1" width="2.2" height="2.0" fill="rgb(127,127,127)"/>
<rect x="221.9" y="364.1" width="2.2" height="2.0" fill="rgb(146,146,146)"/>
<rect x="224.0" y="364.1" width="2.2" height="2.0" fill="rgb(158,158,158)"/>
<rect x="226.1" y="364.1" width="2.2" height="2.0" fill="rgb(187,187,187)"/>
<rect x="178.8" y="366.0" width="2.2" height="2.0" fill="rgb(179,179,179)"/>
<rect x="180.9" y="366.0" width="2.2" height="2.0" fill="rgb(159,159,159)"/>
<rect x="183.0" y="366.0" width="2.2" height="2.0" fill="rgb(145,145,145)"/>
<rect x="185.1" y="366.0" width="2.2" height="2.0" fill="rgb(114,114,114)"/>
<rect x="187.2" y="366.0" width="2.2" height="2.0" fill="rgb(85,85,85)"/>
<rect x="189.3" y="366.0" width="2.2" height="2.0" fill="rgb(57,57,57)"/>
<rect x="191.4" y="366.0" width="2.2" height="2.0" fill="rgb(25,25,25)"/>
<rect x="193.5" y="366.0" width="2.2" height="2.0" fill="rgb(25,25,25)"/>
<rect x="195.6" y="366.0" width="2.2" height="2.0" fill="rgb(25,25,25)"/>
<rect x="197.7" y="366.0" width="2.2" height="2.0" fill="rgb(25,25,25)"/>
<rect x="199.8" y="366.0" width="2.2" height="2.0" fill="rgb(25,25,25)"/>
<rect x="201.9" y="366.0" width="2.2" height="2.0" fill="rgb(25,25,25)"/>
<rect x="204.0" y="366.0" width="2.2" height="2.0" fill="rgb(25,25,25)"/>
<rect x="206.1" y="366.0" width="2.2" height="2.0" fill="rgb(25,25,25)"/>
<rect x="208.2" y="366.0" width="2.2" height="2.0" fill="rgb(25,25,25)"/>
<rect x="210.3" y="366.0" width="2.2" height="2.0" fill="rgb(25,25,25)"/>
<rect x="212.4" y="366.0" width="2.2" height="2.0" fill="rgb(25,25,25)"/>
<rect x="214.5" y="366.0" width="2.2" height="2.0" fill="rgb(53,53,53)"/>
<rect x="216.6" y="366.0" width="2.2" height="2.0" fill="rgb(92,92,92)"/>
<rect x="218.7" y="366.0" width="2.2" height="2.0" fill="rgb(110,110,110)"/>
<rect x="220.8" y="366.0" width="2.2" height="2.0" fill="rgb(144,144,144)"/>
<rect x="222.9" y="366.0" width="2.2" height="2.0" fill="rgb(156,156,156)"/>
<rect x="179.9" y="367.8" width="2.2" height="2.0" fill="rgb(158,158,158)"/>
<rect x="182.0" y="367.8" width="2.2" height="2.0" fill="rgb(144,144,144)"/>
<rect x="184.1" y="367.8" width="2.2" height="2.0" fill="rgb(126,126,126)"/>
<rect x="186.2" y="367.8" width="2.2" height="2.0" fill="rgb(95,95,95)"/>
<rect x="188.3" y="367.8" width="2.2" height="2.0" fill="rgb(65,65,65)"/>
<rect x="190.4" y="367.8" width="2.2" height="2.0" fill="rgb(37,37,37)"/>
<rect x="192.5" y="367.8" width="2.2" height="2.0" fill="rgb(25,25,25)"/>
<rect x="194.6" y="367.8" width="2.2" height="2.0" fill="rgb(25,25,25)"/>
<rect x="196.7" y="367.8" width="2.2" height="2.0" fill="rgb(25,25,25)"/>
<rect x="198.8" y="367.8" width="2.2" height="2.0" fill="rgb(25,25,25)"/>
<rect x="200.9" y="367.8" width="2.2" height="2.0" fill="rgb(25,25,25)"/>
<rect x="203.0" y="367.8" width="2.2" height="2.0" fill="rgb(25,25,25)"/>
<rect x="205.1" y="367.8" width="2.2" height="2.0" fill="rgb(25,25,25)"/>
<rect x="207.2" y="367.8" width="2.2" height="2.0" fill="rgb(25,25,25)"/>
<rect x="209.3" y="367.8" width="2.2" height="2.0" fill="rgb(25,25,25)"/>
<rect x="211.4" y="367.8" width="2.2" height="2.0" fill="rgb(25,25,25)"/>
<rect x="213.5" y="367.8" width="2.2" height="2.0" fill="rgb(45,45,45)"/>
<rect x="215.6" y="367.8" width="2.2" height="2.0" fill="rgb(72,72,72)"/>
<rect x="217.7" y="367.8" width="2.2" height="2.0" fill="rgb(107,107,107)"/>
<rect x="219.8" y="367.8" width="2.2" height="2.0" fill="rgb(131,131,131)"/>
<rect x="221.9" y="367.8" width="2.2" height="2.0" fill="rgb(147,147,147)"/>
<rect x="180.9" y="369.6" width="2.2" height="2.0" fill="rgb(162,162,162)"/>
<rect x="183.0" y="369.6" width="2.2" height="2.0" fill="rgb(134,134,134)"/>
<rect x="185.1" y="369.6" width="2.2" height="2.0" fill="rgb(106,106,106)"/>
<rect x="187.2" y="369.6" width="2.2" height="2.0" fill="rgb(72,72,72)"/>
<rect x="189.3" y="369.6" width="2.2" height="2.0" fill="rgb(49,49,49)"/>
<rect x="191.4" y="369.6" width="2.2" height="2.0" fill="rgb(25,25,25)"/>
<rect x="193.5" y="369.6" width="2.2" height="2.0" fill="rgb(25,25,25)"/>
<rect x="195.6" y="369.6" width="2.2" height="2.0" fill="rgb(25,25,25)"/>
<rect x="197.7" y="369.6" width="2.2" height="2.0" fill="rgb(25,25,25)"/>
<rect x="199.8" y="369.6" width="2.2" height="2.0" fill="rgb(25,25,25)"/>
<rect x="201.9" y="369.6" width="2.2" height="2.0" fill="rgb(25,25,25)"/>
<rect x="204.0" y="369.6" width="2.2" height="2.0" fill="rgb(25,25,25)"/>
<rect x="206.1" y="369.6" width="2.2" height="2.0" fill="rgb(25,25,25)"/>
<rect x="208.2" y="369.6" width="2.2" height="2.0" fill="rgb(25,25,25)"/>
<rect x="210.3" y="369.6" width="2.2" height="2.0" fill="rgb(25,25,25)"/>
<rect x="212.4" y="369.6" width="2.2" height="2.0" fill="rgb(31,31,31)"/>
<rect x="214.5" y="369.6" width="2.2" height="2.0" fill="rgb(61,61,61)"/>
<rect x="216.6" y="369.6" width="2.2" height="2.0" fill="rgb(89,89,89)"/>
<rect x="218.7" y="369.6" width="2.2" height="2.0" fill="rgb(126,126,126)"/>
<rect x="220.8" y="369.6" width="2.2" height="2.0" fill="rgb(138,138,138)"/>
<rect x="222.9" y="369.6" width="2.2" height="2.0" fill="rgb(174,174,174)"/>
<rect x="225.0" y="369.6" width="2.2" height="2.0" fill="rgb(171,171,171)"/>
<rect x="182.0" y="371.4" width="2.2" height="2.0" fill="rgb(143,143,143)"/>
<rect x="184.1" y="371.4" width="2.2" height="2.0" fill="rgb(120,120,120)"/>
<rect x="186.2" y="371.4" width="2.2" height="2.0" fill="rgb(92,92,92)"/>
<rect x="188.3" y="371.4" width="2.2" height="2.0" fill="rgb(58,58,58)"/>
<rect x="190.4" y="371.4" width="2.2" height="2.0" fill="rgb(38,38,38)"/>
<rect x="192.5" y="371.4" width="2.2" height="2.0" fill="rgb(25,25,25)"/>
<rect x="194.6" y="371.4" width="2.2" height="2.0" fill="rgb(25,25,25)"/>
<rect x="196.7" y="371.4" width="2.2" height="2.0" fill="rgb(25,25,25)"/>
<rect x="198.8" y="371.4" width="2.2" height="2.0" fill="rgb(25,25,25)"/>
<rect x="200.9" y="371.4" width="2.2" height="2.0" fill="rgb(25,25,25)"/>
<rect x="203.0" y="371.4" width="2.2" height="2.0" fill="rgb(25,25,25)"/>
<rect x="205.1" y="371.4" width="2.2" height="2.0" fill="rgb(25,25,25)"/>
<rect x="207.2" y="371.4" width="2.2" height="2.0" fill="rgb(25,25,25)"/>
<rect x="209.3" y="371.4" width="2.2" height="2.0" fill="rgb(25,25,25)"/>
<rect x="211.4" y="371.4" width="2.2" height="2.0" fill="rgb(25,25,25)"/>
<rect x="213.5" y="371.4" width="2.2" height="2.0" fill="rgb(51,51,51)"/>
<rect x="215.6" y="371.4" width="2.2" height="2.0" fill="rgb(79,79,79)"/>
<rect x="217.7" y="371.4" width="2.2" height="2.0" fill="rgb(111,111,111)"/>
<rect x="219.8" y="371.4" width="2.2" height="2.0" fill="rgb(142,142,142)"/>
<rect x="221.9" y="371.4" width="2.2" height="2.0" fill="rgb(161,161,161)"/>
<rect x="180.9" y="373.2" width="2.2" height="2.0" fill="rgb(163,163,163)"/>
<rect x="183.0" y="373.2" width="2.2" height="2.0" fill="rgb(137,137,137)"/>
<rect x="185.1" y="373.2" width="2.2" height="2.0" fill="rgb(108,108,108)"/>
<rect x="187.2" y="373.2" width="2.2" height="2.0" fill="rgb(84,84,84)"/>
<rect x="189.3" y="373.2" width="2.2" height="2.0" fill="rgb(58,58,58)"/>
<rect x="191.4" y="373.2" width="2.2" height="2.0" fill="rgb(25,25,25)"/>
<rect x="193.5" y="373.2" width="2.2" height="2.0" fill="rgb(25,25,25)"/>
<rect x="195.6" y="373.2" width="2.2" height="2.0" fill="rgb(25,25,25)"/>
<rect x="197.7" y="373.2" width="2.2" height="2.0" fill="rgb(25,25,25)"/>
<rect x="199.8" y="373.2" width="2.2" height="2.0" fill="rgb(25,25,25)"/>
<rect x="201.9" y="373.2" width="2.2" height="2.0" fill="rgb(25,25,25)"/>
<rect x="204.0" y="373.2" width="2.2" height="2.0" fill="rgb(25,25,25)"/>
<rect x="206.1" y="373.2" width="2.2" height="2.0" fill="rgb(25,25,25)"/>
<rect x="208.2" y="373.2" width="2.2" height="2.0" fill="rgb(25,25,25)"/>
<rect x="210.3" y="373.2" width="2.2" height="2.0" fill="rgb(25,25,25)"/>
<rect x="212.4" y="373.2" width="2.2" height="2.0" fill="rgb(45,45,45)"/>
<rect x="214.5" y="373.2" width="2.2" height="2.0" fill="rgb(74,74,74)"/>
<rect x="216.6" y="373.2" width="2.2" height="2.0" fill="rgb(112,112,112)"/>
<rect x="218.7" y="373.2" width="2.2" height="2.0" fill="rgb(134,134,134)"/>
<rect x="220.8" y="373.2" width="2.2" height="2.0" fill="rgb(156,156,156)"/>
<rect x="182.0" y="375.0" width="2.2" height="2.0" fill="rgb(155,155,155)"/>
<rect x="184.1" y="375.0" width="2.2" height="2.0" fill="rgb(127,127,127)"/>
<rect x="186.2" y="375.0" width="2.2" height="2.0" fill="rgb(104,104,104)"/>
<rect x="188.3" y="375.0" width="2.2" height="2.0" fill="rgb(73,73,73)"/>
<rect x="190.4" y="375.0" width="2.2" height="2.0" fill="rgb(40,40,40)"/>
<rect x="192.5" y="375.0" width="2.2" height="2.0" fill="rgb(25,25,25)"/>
<rect x="194.6" y="375.0" width="2.2" height="2.0" fill="rgb(25,25,25)"/>
<rect x="196.7" y="375.0" width="2.2" height="2.0" fill="rgb(25,25,25)"/>
<rect x="198.8" y="375.0" width="2.2" height="2.0" fill="rgb(25,25,25)"/>
<rect x="200.9" y="375.0" width="2.2" height="2.0" fill="rgb(25,25,25)"/>
<rect x="203.0" y="375.0" width="2.2" height="2.0" fill="rgb(25,25,25)"/>
<rect x="205.1" y="375.0" width="2.2" height="2.0" fill="rgb(25,25,25)"/>
<rect x="207.2" y="375.0" width="2.2" height="2.0" fill="rgb(25,25,25)"/>
<rect x="209.3" y="375.0" width="2.2" height="2.0" fill="rgb(25,25,25)"/>
<rect x="211.4" y="375.0" width="2.2" height="2.0" fill="rgb(38,38,38)"/>
<rect x="213.5" y="375.0" width="2.2" height="2.0" fill="rgb(66,66,66)"/>
<rect x="215.6" y="375.0" width="2.2" height="2.0" fill="rgb(94,94,94)"/>
<rect x="217.7" y="375.0" width="2.2" height="2.0" fill="rgb(129,129,129)"/>
<rect x="219.8" y="375.0" width="2.2" height="2.0" fill="rgb(150,150,150)"/>
<rect x="183.0" y="376.9" width="2.2" height="2.0" fill="rgb(147,147,147)"/>
<rect x="185.1" y="376.9" width="2.2" height="2.0" fill="rgb(125,125,125)"/>
<rect x="187.2" y="376.9" width="2.2" height="2.0" fill="rgb(87,87,87)"/>
<rect x="189.3" y="376.9" width="2.2" height="2.0" fill="rgb(71,71,71)"/>
<rect x="191.4" y="376.9" width="2.2" height="2.0" fill="rgb(44,44,44)"/>
<rect x="193.5" y="376.9" width="2.2" height="2.0" fill="rgb(25,25,25)"/>
<rect x="195.6" y="376.9" width="2.2" height="2.0" fill="rgb(25,25,25)"/>
<rect x="197.7" y="376.9" width="2.2" height="2.0" fill="rgb(25,25,25)"/>
<rect x="199.8" y="376.9" width="2.2" height="2.0" fill="rgb(25,25,25)"/>
<rect x="201.9" y="376.9" width="2.2" height="2.0" fill="rgb(25,25,25)"/>
<rect x="204.0" y="376.9" width="2.2" height="2.0" fill="rgb(25,25,25)"/>
<rect x="206.1" y="376.9" width="2.2" height="2.0" fill="rgb(25,25,25)"/>
<rect x="208.2" y="376.9" width="2.2" height="2.0" fill="rgb(25,25,25)"/>
<rect x="210.3" y="376.9" width="2.2" height="2.0" fill="rgb(47,47,47)"/>
<rect x="212.4" y="376.9" width="2.2" height="2.0" fill="rgb(71,71,71)"/>
<rect x="214.5" y="376.9" width="2.2" height="2.0" fill="rgb(94,94,94)"/>
<rect x="216.6" y="376.9" width="2.2" height="2.0" fill="rgb(116,116,116)"/>
<rect x="218.7" y="376.9" width="2.2" height="2.0" fill="rgb(139,139,139)"/>
<rect x="222.9" y="376.9" width="2.2" height="2.0" fill="rgb(175,175,175)"/>
<rect x="177.8" y="378.7" width="2.2" height="2.0" fill="rgb(182,182,182)"/>
<rect x="179.9" y="378.7" width="2.2" height="2.0" fill="rgb(179,179,179)"/>
<rect x="182.0" y="378.7" width="2.2" height="2.0" fill="rgb(155,155,155)"/>
<rect x="184.1" y="378.7" width="2.2" height="2.0" fill="rgb(134,134,134)"/>
<rect x="186.2" y="378.7" width="2.2" height="2.0" fill="rgb(120,120,120)"/>
<rect x="188.3" y="378.7" width="2.2" height="2.0" fill="rgb(88,88,88)"/>
<rect x="190.4" y="378.7" width="2.2" height="2.0" fill="rgb(67,67,67)"/>
<rect x="192.5" y="378.7" width="2.2" height="2.0" fill="rgb(39,39,39)"/>
<rect x="194.6" y="378.7" width="2.2" height="2.0" fill="rgb(25,25,25)"/>
<rect x="196.7" y="378.7" width="2.2" height="2.0" fill="rgb(25,25,25)"/>
<rect x="198.8" y="378.7" width="2.2" height="2.0" fill="rgb(25,25,25)"/>
<rect x="200.9" y="378.7" width="2.2" height="2.0" fill="rgb(25,25,25)"/>
<rect x="203.0" y="378.7" width="2.2" height="2.0" fill="rgb(25,25,25)"/>
<rect x="205.1" y="378.7" width="2.2" height="2.0" fill="rgb(25,25,25)"/>
<rect x="207.2" y="378.7" width="2.2" height="2.0" fill="rgb(25,25,25)"/>
<rect x="209.3" y="378.7" width="2.2" height="2.0" fill="rgb(41,41,41)"/>
<rect x="211.4" y="378.7" width="2.2" height="2.0" fill="rgb(75,75,75)"/>
<rect x="213.5" y="378.7" width="2.2" height="2.0" fill="rgb(89,89,89)"/>
<rect x="215.6" y="378.7" width="2.2" height="2.0" fill="rgb(124,124,124)"/>
<rect x="217.7" y="378.7" width="2.2" height="2.0" fill="rgb(137,137,137)"/>
<rect x="219.8" y="378.7" width="2.2" height="2.0" fill="rgb(156,156,156)"/>
<rect x="176.7" y="380.5" width="2.2" height="2.0" fill="rgb(195,195,195)"/>
<rect x="183.0" y="380.5" width="2.2" height="2.0" fill="rgb(148,148,148)"/>
<rect x="185.1" y="380.5" width="2.2" height="2.0" fill="rgb(132,132,132)"/>
<rect x="187.2" y="380.5" width="2.2" height="2.0" fill="rgb(107,107,107)"/>
<rect x="189.3" y="380.5" width="2.2" height="2.0" fill="rgb(91,91,91)"/>
<rect x="191.4" y="380.5" width="2.2" height="2.0" fill="rgb(60,60,60)"/>
<rect x="193.5" y="380.5" width="2.2" height="2.0" fill="rgb(48,48,48)"/>
<rect x="195.6" y="380.5" width="2.2" height="2.0" fill="rgb(25,25,25)"/>
<rect x="197.7" y="380.5" width="2.2" height="2.0" fill="rgb(25,25,25)"/>
<rect x="199.8" y="380.5" width="2.2" height="2.0" fill="rgb(25,25,25)"/>
<rect x="201.9" y="380.5" width="2.2" height="2.0" fill="rgb(25,25,25)"/>
<rect x="204.0" y="380.5" width="2.2" height="2.0" fill="rgb(25,25,25)"/>
<rect x="206.1" y="380.5" width="2.2" height="2.0" fill="rgb(34,34,34)"/>
<rect x="208.2" y="380.5" width="2.2" height="2.0" fill="rgb(45,45,45)"/>
<rect x="210.3" y="380.5" width="2.2" height="2.0" fill="rgb(76,76,76)"/>
<rect x="212.4" y="380.5" width="2.2" height="2.0" fill="rgb(98,98,98)"/>
<rect x="214.5" y="380.5" width="2.2" height="2.0" fill="rgb(122,122,122)"/>
<rect x="216.6" y="380.5" width="2.2" height="2.0" fill="rgb(142,142,142)"/>
<rect x="218.7" y="380.5" width="2.2" height="2.0" fill="rgb(156,156,156)"/>
<rect x="179.9" y="382.3" width="2.2" height="2.0" fill="rgb(189,189,189)"/>
<rect x="182.0" y="382.3" width="2.2" height="2.0" fill="rgb(160,160,160)"/>
<rect x="184.1" y="382.3" width="2.2" height="2.0" fill="rgb(146,146,146)"/>
<rect x="186.2" y="382.3" width="2.2" height="2.0" fill="rgb(135,135,135)"/>
<rect x="188.3" y="382.3" width="2.2" height="2.0" fill="rgb(108,108,108)"/>
<rect x="190.4" y="382.3" width="2.2" height="2.0" fill="rgb(86,86,86)"/>
<rect x="192.5" y="382.3" width="2.2" height="2.0" fill="rgb(73,73,73)"/>
<rect x="194.6" y="382.3" width="2.2" height="2.0" fill="rgb(46,46,46)"/>
<rect x="196.7" y="382.3" width="2.2" height="2.0" fill="rgb(37,37,37)"/>
<rect x="198.8" y="382.3" width="2.2" height="2.0" fill="rgb(30,30,30)"/>
<rect x="200.9" y="382.3" width="2.2" height="2.0" fill="rgb(32,32,32)"/>
<rect x="203.0" y="382.3" width="2.2" height="2.0" fill="rgb(37,37,37)"/>
<rect x="205.1" y="382.3" width="2.2" height="2.0" fill="rgb(46,46,46)"/>
<rect x="207.2" y="382.3" width="2.2" height="2.0" fill="rgb(57,57,57)"/>
<rect x="209.3" y="382.3" width="2.2" height="2.0" fill="rgb(76,76,76)"/>
<rect x="211.4" y="382.3" width="2.2" height="2.0" fill="rgb(94,94,94)"/>
<rect x="213.5" y="382.3" width="2.2" height="2.0" fill="rgb(124,124,124)"/>
<rect x="215.6" y="382.3" width="2.2" height="2.0" fill="rgb(142,142,142)"/>
<rect x="217.7" y="382.3" width="2.2" height="2.0" fill="rgb(161,161,161)"/>
<rect x="219.8" y="382.3" width="2.2" height="2.0" fill="rgb(172,172,172)"/>
<rect x="185.1" y="384.1" width="2.2" height="2.0" fill="rgb(143,143,143)"/>
<rect x="187.2" y="384.1" width="2.2" height="2.0" fill="rgb(125,125,125)"/>
<rect x="189.3" y="384.1" width="2.2" height="2.0" fill="rgb(107,107,107)"/>
<rect x="191.4" y="384.1" width="2.2" height="2.0" fill="rgb(94,94,94)"/>
<rect x="193.5" y="384.1" width="2.2" height="2.0" fill="rgb(80,80,80)"/>
<rect x="195.6" y="384.1" width="2.2" height="2.0" fill="rgb(57,57,57)"/>
<rect x="197.7" y="384.1" width="2.2" height="2.0" fill="rgb(48,48,48)"/>
<rect x="199.8" y="384.1" width="2.2" height="2.0" fill="rgb(46,46,46)"/>
<rect x="201.9" y="384.1" width="2.2" height="2.0" fill="rgb(49,49,49)"/>
<rect x="204.0" y="384.1" width="2.2" height="2.0" fill="rgb(59,59,59)"/>
<rect x="206.1" y="384.1" width="2.2" height="2.0" fill="rgb(66,66,66)"/>
<rect x="208.2" y="384.1" width="2.2" height="2.0" fill="rgb(83,83,83)"/>
<rect x="210.3" y="384.1" width="2.2" height="2.0" fill="rgb(99,99,99)"/>
<rect x="212.4" y="384.1" width="2.2" height="2.0" fill="rgb(129,129,129)"/>
<rect x="214.5" y="384.1" width="2.2" height="2.0" fill="rgb(144,144,144)"/>
<rect x="216.6" y="384.1" width="2.2" height="2.0" fill="rgb(152,152,152)"/>
<rect x="220.8" y="384.1" width="2.2" height="2.0" fill="rgb(182,182,182)"/>
<rect x="184.1" y="386.0" width="2.2" height="2.0" fill="rgb(156,156,156)"/>
<rect x="186.2" y="386.0" width="2.2" height="2.0" fill="rgb(149,149,149)"/>
<rect x="188.3" y="386.0" width="2.2" height="2.0" fill="rgb(125,125,125)"/>
<rect x="190.4" y="386.0" width="2.2" height="2.0" fill="rgb(110,110,110)"/>
<rect x="192.5" y="386.0" width="2.2" height="2.0" fill="rgb(97,97,97)"/>
<rect x="194.6" y="386.0" width="2.2" height="2.0" fill="rgb(79,79,79)"/>
<rect x="196.7" y="386.0" width="2.2" height="2.0" fill="rgb(74,74,74)"/>
<rect x="198.8" y="386.0" width="2.2" height="2.0" fill="rgb(75,75,75)"/>
<rect x="200.9" y="386.0" width="2.2" height="2.0" fill="rgb(73,73,73)"/>
<rect x="203.0" y="386.0" width="2.2" height="2.0" fill="rgb(74,74,74)"/>
<rect x="205.1" y="386.0" width="2.2" height="2.0" fill="rgb(85,85,85)"/>
<rect x="207.2" y="386.0" width="2.2" height="2.0" fill="rgb(95,95,95)"/>
<rect x="209.3" y="386.0" width="2.2" height="2.0" fill="rgb(106,106,106)"/>
<rect x="211.4" y="386.0" width="2.2" height="2.0" fill="rgb(128,128,128)"/>
<rect x="213.5" y="386.0" width="2.2" height="2.0" fill="rgb(142,142,142)"/>
<rect x="215.6" y="386.0" width="2.2" height="2.0" fill="rgb(162,162,162)"/>
<rect x="185.1" y="387.8" width="2.2" height="2.0" fill="rgb(168,168,168)"/>
<rect x="187.2" y="387.8" width="2.2" height="2.0" fill="rgb(154,154,154)"/>
<rect x="189.3" y="387.8" width="2.2" height="2.0" fill="rgb(138,138,138)"/>
<rect x="191.4" y="387.8" width="2.2" height="2.0" fill="rgb(123,123,123)"/>
<rect x="193.5" y="387.8" width="2.2" height="2.0" fill="rgb(113,113,113)"/>
<rect x="195.6" y="387.8" width="2.2" height="2.0" fill="rgb(101,101,101)"/>
<rect x="197.7" y="387.8" width="2.2" height="2.0" fill="rgb(94,94,94)"/>
<rect x="199.8" y="387.8" width="2.2" height="2.0" fill="rgb(89,89,89)"/>
<rect x="201.9" y="387.8" width="2.2" height="2.0" fill="rgb(89,89,89)"/>
<rect x="204.0" y="387.8" width="2.2" height="2.0" fill="rgb(99,99,99)"/>
<rect x="206.1" y="387.8" width="2.2" height="2.0" fill="rgb(101,101,101)"/>
<rect x="208.2" y="387.8" width="2.2" height="2.0" fill="rgb(118,118,118)"/>
<rect x="210.3" y="387.8" width="2.2" height="2.0" fill="rgb(137,137,137)"/>
<rect x="212.4" y="387.8" width="2.2" height="2.0" fill="rgb(150,150,150)"/>
<rect x="214.5" y="387.8" width="2.2" height="2.0" fill="rgb(158,158,158)"/>
<rect x="186.2" y="389.6" width="2.2" height="2.0" fill="rgb(168,168,168)"/>
<rect x="188.3" y="389.6" width="2.2" height="2.0" fill="rgb(156,156,156)"/>
<rect x="190.4" y="389.6" width="2.2" height="2.0" fill="rgb(138,138,138)"/>
<rect x="192.5" y="389.6" width="2.2" height="2.0" fill="rgb(128,128,128)"/>
<rect x="194.6" y="389.6" width="2.2" height="2.0" fill="rgb(126,126,126)"/>
<rect x="196.7" y="389.6" width="2.2" height="2.0" fill="rgb(106,106,106)"/>
<rect x="198.8" y="389.6" width="2.2" height="2.0" fill="rgb(109,109,109)"/>
<rect x="200.9" y="389.6" width="2.2" height="2.0" fill="rgb(104,104,104)"/>
<rect x="203.0" y="389.6" width="2.2" height="2.0" fill="rgb(116,116,116)"/>
<rect x="205.1" y="389.6" width="2.2" height="2.0" fill="rgb(125,125,125)"/>
<rect x="207.2" y="389.6" width="2.2" height="2.0" fill="rgb(129,129,129)"/>
<rect x="209.3" y="389.6" width="2.2" height="2.0" fill="rgb(134,134,134)"/>
<rect x="211.4" y="389.6" width="2.2" height="2.0" fill="rgb(153,153,153)"/>
<rect x="213.5" y="389.6" width="2.2" height="2.0" fill="rgb(169,169,169)"/>
<rect x="187.2" y="391.4" width="2.2" height="2.0" fill="rgb(171,171,171)"/>
<rect x="189.3" y="391.4" width="2.2" height="2.0" fill="rgb(155,155,155)"/>
<rect x="191.4" y="391.4" width="2.2" height="2.0" fill="rgb(150,150,150)"/>
<rect x="193.5" y="391.4" width="2.2" height="2.0" fill="rgb(132,132,132)"/>
<rect x="195.6" y="391.4" width="2.2" height="2.0" fill="rgb(138,138,138)"/>
<rect x="197.7" y="391.4" width="2.2" height="2.0" fill="rgb(124,124,124)"/>
<rect x="199.8" y="391.4" width="2.2" height="2.0" fill="rgb(119,119,119)"/>
<rect x="201.9" y="391.4" width="2.2" height="2.0" fill="rgb(124,124,124)"/>
<rect x="204.0" y="391.4" width="2.2" height="2.0" fill="rgb(130,130,130)"/>
<rect x="206.1" y="391.4" width="2.2" height="2.0" fill="rgb(132,132,132)"/>
<rect x="208.2" y="391.4" width="2.2" height="2.0" fill="rgb(147,147,147)"/>
<rect x="210.3" y="391.4" width="2.2" height="2.0" fill="rgb(157,157,157)"/>
<rect x="190.4" y="393.2" width="2.2" height="2.0" fill="rgb(169,169,169)"/>
<rect x="192.5" y="393.2" width="2.2" height="2.0" fill="rgb(153,153,153)"/>
<rect x="194.6" y="393.2" width="2.2" height="2.0" fill="rgb(144,144,144)"/>
<rect x="196.7" y="393.2" width="2.2" height="2.0" fill="rgb(138,138,138)"/>
<rect x="198.8" y="393.2" width="2.2" height="2.0" fill="rgb(145,145,145)"/>
<rect x="200.9" y="393.2" width="2.2" height="2.0" fill="rgb(145,145,145)"/>
<rect x="203.0" y="393.2" width="2.2" height="2.0" fill="rgb(146,146,146)"/>
<rect x="205.1" y="393.2" width="2.2" height="2.0" fill="rgb(149,149,149)"/>
<rect x="207.2" y="393.2" width="2.2" height="2.0" fill="rgb(157,157,157)"/>
<rect x="209.3" y="393.2" width="2.2" height="2.0" fill="rgb(174,174,174)"/>
<rect x="211.4" y="393.2" width="2.2" height="2.0" fill="rgb(176,176,176)"/>
<rect x="191.4" y="395.1" width="2.2" height="2.0" fill="rgb(176,176,176)"/>
<rect x="193.5" y="395.1" width="2.2" height="2.0" fill="rgb(170,170,170)"/>
<rect x="195.6" y="395.1" width="2.2" height="2.0" fill="rgb(154,154,154)"/>
<rect x="197.7" y="395.1" width="2.2" height="2.0" fill="rgb(153,153,153)"/>
<rect x="199.8" y="395.1" width="2.2" height="2.0" fill="rgb(151,151,151)"/>
<rect x="201.9" y="395.1" width="2.2" height="2.0" fill="rgb(154,154,154)"/>
<rect x="204.0" y="395.1" width="2.2" height="2.0" fill="rgb(155,155,155)"/>
<rect x="206.1" y="395.1" width="2.2" height="2.0" fill="rgb(169,169,169)"/>
<rect x="208.2" y="395.1" width="2.2" height="2.0" fill="rgb(165,165,165)"/>
<rect x="196.7" y="396.9" width="2.2" height="2.0" fill="rgb(175,175,175)"/>
<rect x="203.0" y="396.9" width="2.2" height="2.0" fill="rgb(176,176,176)"/>
<rect x="207.2" y="396.9" width="2.2" height="2.0" fill="rgb(166,166,166)"/>
<rect x="197.7" y="398.7" width="2.2" height="2.0" fill="rgb(185,185,185)"/>
<rect x="201.9" y="398.7" width="2.2" height="2.0" fill="rgb(186,186,186)"/>
<rect x="199.8" y="402.3" width="2.2" height="2.0" fill="rgb(190,190,190)"/>
<rect x="239.2" y="207.4" width="1.8" height="1.8" fill="#b4b4b4"/>
<rect x="248.0" y="205.4" width="1.8" height="1.8" fill="#b4b4b4"/>
<rect x="246.4" y="212.1" width="1.8" height="1.8" fill="#b4b4b4"/>
<rect x="243.1" y="222.5" width="1.8" height="1.8" fill="#b4b4b4"/>
<rect x="228.4" y="230.7" width="1.8" height="1.8" fill="#b4b4b4"/>
<rect x="233.3" y="235.6" width="1.8" height="1.8" fill="#b4b4b4"/>
<rect x="232.4" y="237.1" width="1.8" height="1.8" fill="#b4b4b4"/>
<rect x="229.8" y="241.4" width="1.8" height="1.8" fill="#b4b4b4"/>
<rect x="233.7" y="247.5" width="1.8" height="1.8" fill="#b4b4b4"/>
<rect x="222.1" y="250.8" width="1.8" height="1.8" fill="#b4b4b4"/>
<rect x="223.6" y="251.8" width="1.8" height="1.8" fill="#b4b4b4"/>
<rect x="230.4" y="256.7" width="1.8" height="1.8" fill="#b4b4b4"/>
<rect x="226.5" y="260.6" width="1.8" height="1.8" fill="#b4b4b4"/>
<rect x="225.5" y="262.6" width="1.8" height="1.8" fill="#b4b4b4"/>
<rect x="247.6" y="260.2" width="1.8" height="1.8" fill="#b4b4b4"/>
<rect x="265.6" y="258.7" width="1.8" height="1.8" fill="#b4b4b4"/>
<rect x="264.6" y="260.6" width="1.8" height="1.8" fill="#b4b4b4"/>
<rect x="246.6" y="271.0" width="1.8" height="1.8" fill="#b4b4b4"/>
<rect x="244.5" y="275.3" width="1.8" height="1.8" fill="#b4b4b4"/>
<rect x="256.2" y="279.6" width="1.8" height="1.8" fill="#b4b4b4"/>
<rect x="228.4" y="276.3" width="1.8" height="1.8" fill="#b4b4b4"/>
<rect x="234.3" y="281.1" width="1.8" height="1.8" fill="#b4b4b4"/>
<rect x="231.1" y="289.1" width="1.8" height="1.8" fill="#b4b4b4"/>
<rect x="237.1" y="295.1" width="1.8" height="1.8" fill="#b4b4b4"/>
<rect x="243.1" y="299.1" width="1.8" height="1.8" fill="#b4b4b4"/>
<rect x="235.1" y="311.1" width="1.8" height="1.8" fill="#b4b4b4"/>
<rect x="245.1" y="315.1" width="1.8" height="1.8" fill="#b4b4b4"/>
<rect x="251.1" y="321.1" width="1.8" height="1.8" fill="#b4b4b4"/>
<rect x="240.1" y="327.1" width="1.8" height="1.8" fill="#b4b4b4"/>
<rect x="235.1" y="339.1" width="1.8" height="1.8" fill="#b4b4b4"/>
<rect x="243.1" y="351.1" width="1.8" height="1.8" fill="#b4b4b4"/>
<rect x="239.1" y="357.1" width="1.8" height="1.8" fill="#b4b4b4"/>
<rect x="246.1" y="361.1" width="1.8" height="1.8" fill="#b4b4b4"/>
<rect x="250.1" y="348.1" width="1.8" height="1.8" fill="#b4b4b4"/>
<rect x="226.1" y="297.1" width="1.8" height="1.8" fill="#b4b4b4"/>
<rect x="213.1" y="291.1" width="1.8" height="1.8" fill="#b4b4b4"/>
<rect x="209.1" y="286.1" width="1.8" height="1.8" fill="#b4b4b4"/>
<rect x="204.1" y="299.1" width="1.8" height="1.8" fill="#b4b4b4"/>
<rect x="198.1" y="309.1" width="1.8" height="1.8" fill="#b4b4b4"/>
<rect x="206.1" y="317.1" width="1.8" height="1.8" fill="#b4b4b4"/>
<rect x="195.1" y="324.1" width="1.8" height="1.8" fill="#b4b4b4"/>
<rect x="184.1" y="334.1" width="1.8" height="1.8" fill="#b4b4b4"/>
<rect x="245.1" y="287.1" width="1.8" height="1.8" fill="#b4b4b4"/>
<rect x="251.1" y="299.1" width="1.8" height="1.8" fill="#b4b4b4"/>
<rect x="259.1" y="304.1" width="1.8" height="1.8" fill="#b4b4b4"/>
<rect x="228.1" y="265.1" width="1.8" height="1.8" fill="#b4b4b4"/>
<rect x="214.1" y="284.1" width="1.8" height="1.8" fill="#b4b4b4"/>
<rect x="269.1" y="299.1" width="1.8" height="1.8" fill="#b4b4b4"/>
<rect x="306.1" y="339.1" width="1.8" height="1.8" fill="#b4b4b4"/>
<rect x="200.1" y="397.1" width="1.8" height="1.8" fill="#b4b4b4"/>
<rect x="185.1" y="390.1" width="1.8" height="1.8" fill="#b4b4b4"/>
<rect x="192.1" y="403.1" width="1.8" height="1.8" fill="#b4b4b4"/>
<rect x="177.1" y="378.1" width="1.8" height="1.8" fill="#b4b4b4"/>
<rect x="180.1" y="359.1" width="1.8" height="1.8" fill="#b4b4b4"/>
<rect x="220.5" y="320.0" width="1.8" height="1.8" fill="#b4b4b4"/>
<rect x="222.6" y="323.2" width="1.8" height="1.8" fill="#b4b4b4"/>
<rect x="224.3" y="323.5" width="1.8" height="1.8" fill="#b4b4b4"/>
<rect x="227.5" y="332.6" width="1.8" height="1.8" fill="#b4b4b4"/>
<rect x="224.4" y="307.5" width="1.8" height="1.8" fill="#b4b4b4"/>
<rect x="233.1" y="291.1" width="1.8" height="1.8" fill="#b4b4b4"/>
<rect x="217.3" y="287.3" width="1.8" height="1.8" fill="#b4b4b4"/>
<rect x="236.5" y="359.7" width="1.8" height="1.8" fill="#b4b4b4"/>
<rect x="224.0" y="331.5" width="1.8" height="1.8" fill="#b4b4b4"/>
<rect x="238.1" y="296.2" width="1.8" height="1.8" fill="#b4b4b4"/>
<rect x="229.6" y="288.7" width="1.8" height="1.8" fill="#b4b4b4"/>
<rect x="228.3" y="298.7" width="1.8" height="1.8" fill="#b4b4b4"/>
<rect x="229.1" y="319.8" width="1.8" height="1.8" fill="#b4b4b4"/>
<rect x="232.6" y="318.0" width="1.8" height="1.8" fill="#b4b4b4"/>
<rect x="218.4" y="333.4" width="1.8" height="1.8" fill="#b4b4b4"/>
<rect x="222.4" y="322.6" width="1.8" height="1.8" fill="#b4b4b4"/>
<rect x="220.3" y="305.5" width="1.8" height="1.8" fill="#b4b4b4"/>
<rect x="240.4" y="360.9" width="1.8" height="1.8" fill="#b4b4b4"/>
<rect x="225.8" y="338.6" width="1.8" height="1.8" fill="#b4b4b4"/>
<rect x="228.6" y="308.4" width="1.8" height="1.8" fill="#b4b4b4"/>
<rect x="235.2" y="289.5" width="1.8" height="1.8" fill="#b4b4b4"/>
<rect x="213.4" y="343.1" width="1.8" height="1.8" fill="#b4b4b4"/>
<rect x="236.5" y="313.9" width="1.8" height="1.8" fill="#b4b4b4"/>
<rect x="225.4" y="357.9" width="1.8" height="1.8" fill="#b4b4b4"/>
<rect x="227.9" y="300.2" width="1.8" height="1.8" fill="#b4b4b4"/>
<rect x="231.6" y="314.7" width="1.8" height="1.8" fill="#b4b4b4"/>
<rect x="219.1" y="289.7" width="1.8" height="1.8" fill="#b4b4b4"/>
<rect x="217.8" y="304.9" width="1.8" height="1.8" fill="#b4b4b4"/>
<rect x="218.4" y="290.8" width="1.8" height="1.8" fill="#b4b4b4"/>
<rect x="243.9" y="342.5" width="1.8" height="1.8" fill="#b4b4b4"/>
<rect x="228.6" y="293.2" width="1.8" height="1.8" fill="#b4b4b4"/>
<rect x="232.4" y="288.7" width="1.8" height="1.8" fill="#b4b4b4"/>
<rect x="230.4" y="345.5" width="1.8" height="1.8" fill="#b4b4b4"/>
<rect x="236.4" y="318.6" width="1.8" height="1.8" fill="#b4b4b4"/>
<rect x="227.7" y="298.8" width="1.8" height="1.8" fill="#b4b4b4"/>
<rect x="222.3" y="333.7" width="1.8" height="1.8" fill="#b4b4b4"/>
<rect x="223.6" y="293.1" width="1.8" height="1.8" fill="#b4b4b4"/>
<rect x="230.6" y="304.9" width="1.8" height="1.8" fill="#b4b4b4"/>
<rect x="227.5" y="358.9" width="1.8" height="1.8" fill="#b4b4b4"/>
<rect x="219.1" y="352.2" width="1.8" height="1.8" fill="#b4b4b4"/>
<rect x="215.8" y="300.3" width="1.8" height="1.8" fill="#b4b4b4"/>
<rect x="236.2" y="333.5" width="1.8" height="1.8" fill="#b4b4b4"/>
<rect x="234.1" y="291.8" width="1.8" height="1.8" fill="#b4b4b4"/>
</g>
<circle cx="269" cy="212" r="1.95" fill="#e31ac4"/>
<circle cx="254.8" cy="217.1" r="1.95" fill="#e31ac4"/>
<circle cx="248.5" cy="236.5" r="1.95" fill="#e31ac4"/>
<circle cx="258.3" cy="241.6" r="1.95" fill="#e31ac4"/>
<circle cx="275.1" cy="240.8" r="1.95" fill="#e31ac4"/>
<circle cx="246.6" cy="250.6" r="1.95" fill="#e31ac4"/>
<circle cx="241.7" cy="259.6" r="1.95" fill="#e31ac4"/>
<circle cx="253.2" cy="259" r="1.95" fill="#e31ac4"/>
<circle cx="221.1" cy="268.4" r="1.95" fill="#e31ac4"/>
<circle cx="250.9" cy="274.4" r="1.95" fill="#e31ac4"/>
<circle cx="220.4" cy="295.4" r="1.95" fill="#e31ac4"/>
<circle cx="212.1" cy="299.2" r="1.95" fill="#e31ac4"/>
<circle cx="230" cy="299.2" r="1.95" fill="#e31ac4"/>
<circle cx="223.5" cy="309.4" r="1.95" fill="#e31ac4"/>
<circle cx="219.7" cy="318.3" r="1.95" fill="#e31ac4"/>
<circle cx="219.7" cy="327.4" r="1.95" fill="#e31ac4"/>
<circle cx="222" cy="330.7" r="1.95" fill="#e31ac4"/>
<circle cx="218.9" cy="334.2" r="1.95" fill="#e31ac4"/>
<circle cx="219.6" cy="327.6" r="1.95" fill="#e31ac4"/>
<circle cx="221.9" cy="330.9" r="1.95" fill="#e31ac4"/>
<circle cx="218.9" cy="334.1" r="1.95" fill="#e31ac4"/>
<circle cx="204.2" cy="347.2" r="1.95" fill="#e31ac4"/>
<circle cx="198" cy="355.3" r="1.95" fill="#e31ac4"/>
<circle cx="209.1" cy="355.9" r="1.95" fill="#e31ac4"/>
<circle cx="203.9" cy="360.2" r="1.95" fill="#e31ac4"/>
<circle cx="204.6" cy="364.8" r="1.95" fill="#e31ac4"/>
<circle cx="211.7" cy="364.1" r="1.95" fill="#e31ac4"/>
<circle cx="190.2" cy="367.4" r="1.95" fill="#e31ac4"/>
<circle cx="197.4" cy="366.7" r="1.95" fill="#e31ac4"/>
<circle cx="186.3" cy="369.3" r="1.95" fill="#e31ac4"/>
<circle cx="200.7" cy="368" r="1.95" fill="#e31ac4"/>
<circle cx="204.6" cy="368.7" r="1.95" fill="#e31ac4"/>
<circle cx="213" cy="368" r="1.95" fill="#e31ac4"/>
<circle cx="190.9" cy="371.3" r="1.95" fill="#e31ac4"/>
<circle cx="205.2" cy="373.3" r="1.95" fill="#e31ac4"/>
<circle cx="210.4" cy="375.2" r="1.95" fill="#e31ac4"/>
<circle cx="191.5" cy="378.5" r="1.95" fill="#e31ac4"/>
<circle cx="196.7" cy="377.8" r="1.95" fill="#e31ac4"/>
<circle cx="204.6" cy="383" r="1.95" fill="#e31ac4"/>
<circle cx="233.8" cy="214.6" r="1.95" fill="#1cbfc4"/>
<circle cx="271.4" cy="212.6" r="1.95" fill="#1cbfc4"/>
<circle cx="264" cy="218.9" r="1.95" fill="#1cbfc4"/>
<circle cx="266.5" cy="221.4" r="1.95" fill="#1cbfc4"/>
<circle cx="281.2" cy="219.1" r="1.95" fill="#1cbfc4"/>
<circle cx="248.5" cy="240" r="1.95" fill="#1cbfc4"/>
<circle cx="251.5" cy="242" r="1.95" fill="#1cbfc4"/>
<circle cx="269.7" cy="244.7" r="1.95" fill="#1cbfc4"/>
<circle cx="223.5" cy="272.7" r="1.95" fill="#1cbfc4"/>
<circle cx="225" cy="282.7" r="1.95" fill="#1cbfc4"/>
<circle cx="230.6" cy="287.8" r="1.95" fill="#1cbfc4"/>
<circle cx="240.7" cy="290.1" r="1.95" fill="#1cbfc4"/>
<circle cx="225.3" cy="300.3" r="1.95" fill="#1cbfc4"/>
<circle cx="227" cy="304.3" r="1.95" fill="#1cbfc4"/>
<circle cx="234.4" cy="305.3" r="1.95" fill="#1cbfc4"/>
<circle cx="231.8" cy="308.4" r="1.95" fill="#1cbfc4"/>
<circle cx="227.7" cy="309.4" r="1.95" fill="#1cbfc4"/>
<circle cx="225" cy="310.7" r="1.95" fill="#1cbfc4"/>
<circle cx="221.2" cy="312.6" r="1.95" fill="#1cbfc4"/>
<circle cx="218.2" cy="314.5" r="1.95" fill="#1cbfc4"/>
<circle cx="218.2" cy="306.1" r="1.95" fill="#1cbfc4"/>
<circle cx="209.8" cy="323.3" r="1.95" fill="#1cbfc4"/>
<circle cx="215.9" cy="324.4" r="1.95" fill="#1cbfc4"/>
<circle cx="221.2" cy="324.4" r="1.95" fill="#1cbfc4"/>
<circle cx="215.1" cy="330.4" r="1.95" fill="#1cbfc4"/>
<circle cx="215" cy="325.7" r="1.95" fill="#1cbfc4"/>
<circle cx="215" cy="330.2" r="1.95" fill="#1cbfc4"/>
<circle cx="221.5" cy="337.4" r="1.95" fill="#1cbfc4"/>
<circle cx="196.5" cy="339.6" r="1.95" fill="#1cbfc4"/>
<circle cx="200" cy="341.3" r="1.95" fill="#1cbfc4"/>
<circle cx="209.8" cy="341.7" r="1.95" fill="#1cbfc4"/>
<circle cx="212.4" cy="340" r="1.95" fill="#1cbfc4"/>
<circle cx="213.7" cy="344.3" r="1.95" fill="#1cbfc4"/>
<circle cx="215" cy="346.5" r="1.95" fill="#1cbfc4"/>
<circle cx="194.8" cy="345.2" r="1.95" fill="#1cbfc4"/>
<circle cx="198" cy="347.2" r="1.95" fill="#1cbfc4"/>
<circle cx="226.1" cy="349.8" r="1.95" fill="#1cbfc4"/>
<circle cx="216.3" cy="351.7" r="1.95" fill="#1cbfc4"/>
<circle cx="192.8" cy="355" r="1.95" fill="#1cbfc4"/>
<circle cx="199.3" cy="357" r="1.95" fill="#1cbfc4"/>
<circle cx="205.2" cy="357" r="1.95" fill="#1cbfc4"/>
<circle cx="210.4" cy="358.7" r="1.95" fill="#1cbfc4"/>
<circle cx="192.8" cy="360.2" r="1.95" fill="#1cbfc4"/>
<circle cx="196.1" cy="361.5" r="1.95" fill="#1cbfc4"/>
<circle cx="216.3" cy="365.4" r="1.95" fill="#1cbfc4"/>
<circle cx="218.3" cy="368" r="1.95" fill="#1cbfc4"/>
<circle cx="211.7" cy="369.3" r="1.95" fill="#1cbfc4"/>
<circle cx="195.4" cy="369.3" r="1.95" fill="#1cbfc4"/>
<circle cx="190.2" cy="373.9" r="1.95" fill="#1cbfc4"/>
<circle cx="196.1" cy="373.9" r="1.95" fill="#1cbfc4"/>
<circle cx="198" cy="375.2" r="1.95" fill="#1cbfc4"/>
<circle cx="203.9" cy="373.9" r="1.95" fill="#1cbfc4"/>
<circle cx="184.3" cy="376.5" r="1.95" fill="#1cbfc4"/>
<circle cx="194.8" cy="381.1" r="1.95" fill="#1cbfc4"/>
<circle cx="200" cy="379" r="1.95" fill="#1cbfc4"/>
<circle cx="202" cy="377" r="1.95" fill="#1cbfc4"/>
<circle cx="193.5" cy="371" r="1.95" fill="#1cbfc4"/>
<circle cx="197" cy="372.5" r="1.95" fill="#1cbfc4"/>
<circle cx="199" cy="383" r="1.95" fill="#1cbfc4"/>
<circle cx="196" cy="385.5" r="1.95" fill="#1cbfc4"/>
<circle cx="201.5" cy="386" r="1.95" fill="#1cbfc4"/>
<circle cx="206" cy="380" r="1.95" fill="#1cbfc4"/>
<circle cx="189" cy="364" r="1.95" fill="#1cbfc4"/>
<circle cx="208" cy="372.5" r="1.95" fill="#1cbfc4"/>
<line x1="162.2" y1="366.3" x2="402.6" y2="366.3" stroke="#000" stroke-width="1.5" stroke-dasharray="3 3.1"/>
<line x1="162.2" y1="273.6" x2="402.6" y2="273.6" stroke="#000" stroke-width="1.5" stroke-dasharray="3 3.1"/>
<line x1="217.6" y1="180.5" x2="217.6" y2="421.5" stroke="#000" stroke-width="1.5" stroke-dasharray="3 3.1"/>
<line x1="310.1" y1="180.5" x2="310.1" y2="421.5" stroke="#000" stroke-width="1.5" stroke-dasharray="3 3.1"/>
<line x1="162.2" y1="421.5" x2="402.6" y2="180.5" stroke="#808080" stroke-width="1.3"/>
<rect x="276" y="372.8" width="126" height="45.7" fill="#fff"/>
<line x1="201.6" y1="180.5" x2="201.6" y2="421.5" stroke="#000" stroke-width="1.8"/>
<line x1="162.2" y1="371.5" x2="402.6" y2="371.5" stroke="#000" stroke-width="1.8"/>
<text x="287" y="385.4" font-size="11.5" font-family="Liberation Sans, sans-serif" font-weight="bold">r = 0.48 (n=15575)</text>
<text x="287" y="399.5" font-size="11.5" font-family="Liberation Sans, sans-serif" font-weight="bold">virus response</text>
<text x="287" y="413.7" font-size="11.5" font-family="Liberation Sans, sans-serif" font-weight="bold">interferon response</text>
<circle cx="284.7" cy="396.7" r="1.3" fill="#e31ac4"/>
<circle cx="284.7" cy="411.4" r="1.3" fill="#1cbfc4"/>
<path d="M162.2,179.2 C165.17,179.08 176.12,178.78 180.00,178.50 C183.88,178.22 183.98,178.18 185.50,177.50 C187.02,176.82 188.12,175.75 189.10,174.40 C190.08,173.05 190.72,171.60 191.40,169.40 C192.08,167.20 192.60,163.63 193.20,161.20 C193.80,158.77 194.40,156.70 195.00,154.80 C195.60,152.90 196.20,150.93 196.80,149.80 C197.40,148.67 197.92,148.07 198.60,148.00 C199.28,147.93 200.13,148.42 200.90,149.40 C201.67,150.38 202.37,152.23 203.20,153.90 C204.03,155.57 205.07,157.88 205.90,159.40 C206.73,160.92 207.22,161.80 208.20,163.00 C209.18,164.20 210.58,165.47 211.80,166.60 C213.02,167.73 214.58,168.88 215.50,169.80 C216.42,170.72 216.70,171.18 217.30,172.10 C217.90,173.02 218.35,174.47 219.10,175.30 C219.85,176.13 219.98,176.57 221.80,177.10 C223.62,177.63 223.63,178.15 230.00,178.50 C236.37,178.85 231.23,179.08 260.00,179.20 C288.77,179.32 378.83,179.20 402.60,179.20 Z" fill="#8c8c8c" stroke="none"/>
<path d="M162.2,179.2 C165.17,179.08 176.12,178.78 180.00,178.50 C183.88,178.22 183.98,178.18 185.50,177.50 C187.02,176.82 188.12,175.75 189.10,174.40 C190.08,173.05 190.72,171.60 191.40,169.40 C192.08,167.20 192.60,163.63 193.20,161.20 C193.80,158.77 194.40,156.70 195.00,154.80 C195.60,152.90 196.20,150.93 196.80,149.80 C197.40,148.67 197.92,148.07 198.60,148.00 C199.28,147.93 200.13,148.42 200.90,149.40 C201.67,150.38 202.37,152.23 203.20,153.90 C204.03,155.57 205.07,157.88 205.90,159.40 C206.73,160.92 207.22,161.80 208.20,163.00 C209.18,164.20 210.58,165.47 211.80,166.60 C213.02,167.73 214.58,168.88 215.50,169.80 C216.42,170.72 216.70,171.18 217.30,172.10 C217.90,173.02 218.35,174.47 219.10,175.30 C219.85,176.13 219.98,176.57 221.80,177.10 C223.62,177.63 223.63,178.15 230.00,178.50 C236.37,178.85 231.23,179.08 260.00,179.20 C288.77,179.32 378.83,179.20 402.60,179.20" fill="none" stroke="#000" stroke-width="1.5"/>
<line x1="166.2" y1="179" x2="402.6" y2="179" stroke="#d8d8d8" stroke-width="0.8"/>
<path d="M403.8,180.5 C403.87,200.42 404.08,276.75 404.20,300.00 C404.32,323.25 404.30,313.77 404.50,320.00 C404.70,326.23 404.95,332.48 405.40,337.40 C405.85,342.32 406.03,346.18 407.20,349.50 C408.37,352.82 410.10,355.13 412.40,357.30 C414.70,359.47 418.12,360.77 421.00,362.50 C423.88,364.23 427.23,365.82 429.70,367.70 C432.17,369.58 435.50,372.20 435.80,373.80 C436.10,375.40 433.97,376.13 431.50,377.30 C429.03,378.47 424.18,379.65 421.00,380.80 C417.82,381.95 414.57,383.05 412.40,384.20 C410.23,385.35 409.17,386.25 408.00,387.70 C406.83,389.15 405.98,390.85 405.40,392.90 C404.82,394.95 404.73,395.23 404.50,400.00 C404.27,404.77 404.08,417.92 404.00,421.50 Z" fill="#8c8c8c" stroke="none"/>
<path d="M403.8,180.5 C403.87,200.42 404.08,276.75 404.20,300.00 C404.32,323.25 404.30,313.77 404.50,320.00 C404.70,326.23 404.95,332.48 405.40,337.40 C405.85,342.32 406.03,346.18 407.20,349.50 C408.37,352.82 410.10,355.13 412.40,357.30 C414.70,359.47 418.12,360.77 421.00,362.50 C423.88,364.23 427.23,365.82 429.70,367.70 C432.17,369.58 435.50,372.20 435.80,373.80 C436.10,375.40 433.97,376.13 431.50,377.30 C429.03,378.47 424.18,379.65 421.00,380.80 C417.82,381.95 414.57,383.05 412.40,384.20 C410.23,385.35 409.17,386.25 408.00,387.70 C406.83,389.15 405.98,390.85 405.40,392.90 C404.82,394.95 404.73,395.23 404.50,400.00 C404.27,404.77 404.08,417.92 404.00,421.50" fill="none" stroke="#000" stroke-width="1.5"/>
<line x1="162.2" y1="180.5" x2="162.2" y2="421.5" stroke="#000" stroke-width="2"/>
<line x1="161.2" y1="421.5" x2="403.6" y2="421.5" stroke="#000" stroke-width="2"/>
<line x1="163.2" y1="180.5" x2="402.6" y2="180.5" stroke="#000" stroke-width="2.8"/>
<line x1="403.5" y1="181.3" x2="403.5" y2="422.5" stroke="#000" stroke-width="2.6"/>
<line x1="159.0" y1="366.3" x2="162.2" y2="366.3" stroke="#000" stroke-width="1.5"/>
<line x1="217.6" y1="421.5" x2="217.6" y2="424.7" stroke="#000" stroke-width="1.5"/>
<line x1="159.0" y1="273.6" x2="162.2" y2="273.6" stroke="#000" stroke-width="1.5"/>
<line x1="310.1" y1="421.5" x2="310.1" y2="424.7" stroke="#000" stroke-width="1.5"/>
<line x1="159.0" y1="180.9" x2="162.2" y2="180.9" stroke="#000" stroke-width="1.5"/>
<line x1="402.6" y1="421.5" x2="402.6" y2="424.7" stroke="#000" stroke-width="1.5"/>
<text x="155.6" y="184.5" font-size="11.3" text-anchor="end" font-family="Liberation Sans, sans-serif" font-weight="bold">10</text>
<text x="155.6" y="277.5" font-size="11.3" text-anchor="end" font-family="Liberation Sans, sans-serif" font-weight="bold">5</text>
<text x="155.2" y="369.8" font-size="11.3" text-anchor="end" font-family="Liberation Sans, sans-serif" font-weight="bold">0</text>
<text x="217.3" y="435.8" font-size="11.3" text-anchor="middle" font-family="Liberation Sans, sans-serif" font-weight="bold">0</text>
<text x="310" y="435.8" font-size="11.3" text-anchor="middle" font-family="Liberation Sans, sans-serif" font-weight="bold">5</text>
<text x="402.2" y="435.8" font-size="11.3" text-anchor="middle" font-family="Liberation Sans, sans-serif" font-weight="bold">10</text>
<text x="278.8" y="449.8" font-size="11.4" text-anchor="middle" font-family="Liberation Sans, sans-serif" font-weight="bold">RNA for PR8 vs Mock (LFC)</text>
<text transform="translate(135.1,296.8) rotate(-90)" x="0" y="0" font-size="11.5" text-anchor="middle" font-family="Liberation Sans, sans-serif" font-weight="bold">RNA for PR8ΔNS1 vs Mock (LFC)</text>
</svg></body></html>
